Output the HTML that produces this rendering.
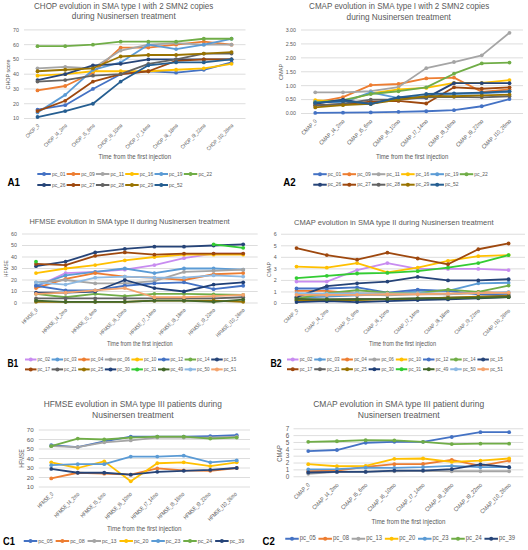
<!DOCTYPE html>
<html><head><meta charset="utf-8"><style>
html,body{margin:0;padding:0;background:#fff;}
body{width:528px;height:550px;overflow:hidden;}
svg{display:block;font-family:"Liberation Sans", sans-serif;}
</style></head><body>
<svg width="528" height="550" viewBox="0 0 528 550">
<rect width="528" height="550" fill="#fff"/>
<text x="123.70" y="9.10" font-size="8.6" fill="#595959" text-anchor="middle" textLength="179.20" lengthAdjust="spacingAndGlyphs">CHOP evolution in SMA type I with 2 SMN2 copies</text>
<text x="123.75" y="19.40" font-size="8.6" fill="#595959" text-anchor="middle" textLength="103.90" lengthAdjust="spacingAndGlyphs">during Nusinersen treatment</text>
<line x1="24" y1="118.50" x2="245.5" y2="118.50" stroke="#D9D9D9" stroke-width="0.9"/>
<text x="19.00" y="120.41" font-size="5.3" fill="#595959" text-anchor="end">10</text>
<line x1="24" y1="103.73" x2="245.5" y2="103.73" stroke="#D9D9D9" stroke-width="0.9"/>
<text x="19.00" y="105.64" font-size="5.3" fill="#595959" text-anchor="end">20</text>
<line x1="24" y1="88.97" x2="245.5" y2="88.97" stroke="#D9D9D9" stroke-width="0.9"/>
<text x="19.00" y="90.87" font-size="5.3" fill="#595959" text-anchor="end">30</text>
<line x1="24" y1="74.20" x2="245.5" y2="74.20" stroke="#D9D9D9" stroke-width="0.9"/>
<text x="19.00" y="76.11" font-size="5.3" fill="#595959" text-anchor="end">40</text>
<line x1="24" y1="59.43" x2="245.5" y2="59.43" stroke="#D9D9D9" stroke-width="0.9"/>
<text x="19.00" y="61.34" font-size="5.3" fill="#595959" text-anchor="end">50</text>
<line x1="24" y1="44.67" x2="245.5" y2="44.67" stroke="#D9D9D9" stroke-width="0.9"/>
<text x="19.00" y="46.57" font-size="5.3" fill="#595959" text-anchor="end">60</text>
<line x1="24" y1="29.90" x2="245.5" y2="29.90" stroke="#D9D9D9" stroke-width="0.9"/>
<text x="19.00" y="31.81" font-size="5.3" fill="#595959" text-anchor="end">70</text>
<text x="0.00" y="0.00" font-size="6.0" fill="#595959" text-anchor="middle" textLength="30.00" lengthAdjust="spacingAndGlyphs" transform="translate(10.40,74.40) rotate(-90)">CHOP score</text>
<text x="0.00" y="0.00" font-size="5.4" fill="#595959" text-anchor="end" textLength="17.03" lengthAdjust="spacingAndGlyphs" transform="translate(39.70,126.10) rotate(-45)">CHOP_0</text>
<text x="0.00" y="0.00" font-size="5.4" fill="#595959" text-anchor="end" textLength="30.21" lengthAdjust="spacingAndGlyphs" transform="translate(67.42,126.10) rotate(-45)">CHOP_I4_2mo</text>
<text x="0.00" y="0.00" font-size="5.4" fill="#595959" text-anchor="end" textLength="30.21" lengthAdjust="spacingAndGlyphs" transform="translate(95.14,126.10) rotate(-45)">CHOP_I5_6mo</text>
<text x="0.00" y="0.00" font-size="5.4" fill="#595959" text-anchor="end" textLength="32.79" lengthAdjust="spacingAndGlyphs" transform="translate(122.86,126.10) rotate(-45)">CHOP_I6_10mo</text>
<text x="0.00" y="0.00" font-size="5.4" fill="#595959" text-anchor="end" textLength="32.79" lengthAdjust="spacingAndGlyphs" transform="translate(150.58,126.10) rotate(-45)">CHOP_I7_14mo</text>
<text x="0.00" y="0.00" font-size="5.4" fill="#595959" text-anchor="end" textLength="32.79" lengthAdjust="spacingAndGlyphs" transform="translate(178.30,126.10) rotate(-45)">CHOP_I8_18mo</text>
<text x="0.00" y="0.00" font-size="5.4" fill="#595959" text-anchor="end" textLength="32.79" lengthAdjust="spacingAndGlyphs" transform="translate(206.02,126.10) rotate(-45)">CHOP_I9_22mo</text>
<text x="0.00" y="0.00" font-size="5.4" fill="#595959" text-anchor="end" textLength="35.38" lengthAdjust="spacingAndGlyphs" transform="translate(233.74,126.10) rotate(-45)">CHOP_I10_26mo</text>
<text x="134.75" y="159.20" font-size="6.6" fill="#595959" text-anchor="middle" textLength="72.50" lengthAdjust="spacingAndGlyphs">Time from the first injection</text>
<polyline points="37.50,109.64 65.22,105.21 92.94,88.97 120.66,74.20 148.38,71.25 176.10,72.72 203.82,69.77 231.54,62.39" fill="none" stroke="#4472C4" stroke-width="1.8" stroke-linejoin="round"/>
<circle cx="37.50" cy="109.64" r="1.9" fill="#4472C4"/>
<circle cx="65.22" cy="105.21" r="1.9" fill="#4472C4"/>
<circle cx="92.94" cy="88.97" r="1.9" fill="#4472C4"/>
<circle cx="120.66" cy="74.20" r="1.9" fill="#4472C4"/>
<circle cx="148.38" cy="71.25" r="1.9" fill="#4472C4"/>
<circle cx="176.10" cy="72.72" r="1.9" fill="#4472C4"/>
<circle cx="203.82" cy="69.77" r="1.9" fill="#4472C4"/>
<circle cx="231.54" cy="62.39" r="1.9" fill="#4472C4"/>
<polyline points="37.50,90.44 65.22,86.01 92.94,72.72 120.66,47.62 148.38,47.62 176.10,44.67 203.82,41.71 231.54,44.67" fill="none" stroke="#ED7D31" stroke-width="1.8" stroke-linejoin="round"/>
<circle cx="37.50" cy="90.44" r="1.9" fill="#ED7D31"/>
<circle cx="65.22" cy="86.01" r="1.9" fill="#ED7D31"/>
<circle cx="92.94" cy="72.72" r="1.9" fill="#ED7D31"/>
<circle cx="120.66" cy="47.62" r="1.9" fill="#ED7D31"/>
<circle cx="148.38" cy="47.62" r="1.9" fill="#ED7D31"/>
<circle cx="176.10" cy="44.67" r="1.9" fill="#ED7D31"/>
<circle cx="203.82" cy="41.71" r="1.9" fill="#ED7D31"/>
<circle cx="231.54" cy="44.67" r="1.9" fill="#ED7D31"/>
<polyline points="37.50,68.29 65.22,66.82 92.94,68.29 120.66,50.57 148.38,44.67 176.10,43.19 203.82,44.67 231.54,44.67" fill="none" stroke="#A5A5A5" stroke-width="1.8" stroke-linejoin="round"/>
<circle cx="37.50" cy="68.29" r="1.9" fill="#A5A5A5"/>
<circle cx="65.22" cy="66.82" r="1.9" fill="#A5A5A5"/>
<circle cx="92.94" cy="68.29" r="1.9" fill="#A5A5A5"/>
<circle cx="120.66" cy="50.57" r="1.9" fill="#A5A5A5"/>
<circle cx="148.38" cy="44.67" r="1.9" fill="#A5A5A5"/>
<circle cx="176.10" cy="43.19" r="1.9" fill="#A5A5A5"/>
<circle cx="203.82" cy="44.67" r="1.9" fill="#A5A5A5"/>
<circle cx="231.54" cy="44.67" r="1.9" fill="#A5A5A5"/>
<polyline points="37.50,75.68 65.22,74.20 92.94,71.25 120.66,71.25 148.38,71.25 176.10,69.77 203.82,68.29 231.54,63.86" fill="none" stroke="#FFC000" stroke-width="1.8" stroke-linejoin="round"/>
<circle cx="37.50" cy="75.68" r="1.9" fill="#FFC000"/>
<circle cx="65.22" cy="74.20" r="1.9" fill="#FFC000"/>
<circle cx="92.94" cy="71.25" r="1.9" fill="#FFC000"/>
<circle cx="120.66" cy="71.25" r="1.9" fill="#FFC000"/>
<circle cx="148.38" cy="71.25" r="1.9" fill="#FFC000"/>
<circle cx="176.10" cy="69.77" r="1.9" fill="#FFC000"/>
<circle cx="203.82" cy="68.29" r="1.9" fill="#FFC000"/>
<circle cx="231.54" cy="63.86" r="1.9" fill="#FFC000"/>
<polyline points="37.50,112.59 65.22,94.87 92.94,69.77 120.66,62.39 148.38,44.67 176.10,49.10 203.82,44.67 231.54,38.76" fill="none" stroke="#5B9BD5" stroke-width="1.8" stroke-linejoin="round"/>
<circle cx="37.50" cy="112.59" r="1.9" fill="#5B9BD5"/>
<circle cx="65.22" cy="94.87" r="1.9" fill="#5B9BD5"/>
<circle cx="92.94" cy="69.77" r="1.9" fill="#5B9BD5"/>
<circle cx="120.66" cy="62.39" r="1.9" fill="#5B9BD5"/>
<circle cx="148.38" cy="44.67" r="1.9" fill="#5B9BD5"/>
<circle cx="176.10" cy="49.10" r="1.9" fill="#5B9BD5"/>
<circle cx="203.82" cy="44.67" r="1.9" fill="#5B9BD5"/>
<circle cx="231.54" cy="38.76" r="1.9" fill="#5B9BD5"/>
<polyline points="37.50,46.14 65.22,46.14 92.94,44.67 120.66,41.71 148.38,41.71 176.10,41.71 203.82,38.76 231.54,38.76" fill="none" stroke="#70AD47" stroke-width="1.8" stroke-linejoin="round"/>
<circle cx="37.50" cy="46.14" r="1.9" fill="#70AD47"/>
<circle cx="65.22" cy="46.14" r="1.9" fill="#70AD47"/>
<circle cx="92.94" cy="44.67" r="1.9" fill="#70AD47"/>
<circle cx="120.66" cy="41.71" r="1.9" fill="#70AD47"/>
<circle cx="148.38" cy="41.71" r="1.9" fill="#70AD47"/>
<circle cx="176.10" cy="41.71" r="1.9" fill="#70AD47"/>
<circle cx="203.82" cy="38.76" r="1.9" fill="#70AD47"/>
<circle cx="231.54" cy="38.76" r="1.9" fill="#70AD47"/>
<polyline points="37.50,80.11 65.22,74.20 92.94,65.34 120.66,63.86 148.38,59.43 176.10,59.43 203.82,59.43 231.54,59.43" fill="none" stroke="#264478" stroke-width="1.8" stroke-linejoin="round"/>
<circle cx="37.50" cy="80.11" r="1.9" fill="#264478"/>
<circle cx="65.22" cy="74.20" r="1.9" fill="#264478"/>
<circle cx="92.94" cy="65.34" r="1.9" fill="#264478"/>
<circle cx="120.66" cy="63.86" r="1.9" fill="#264478"/>
<circle cx="148.38" cy="59.43" r="1.9" fill="#264478"/>
<circle cx="176.10" cy="59.43" r="1.9" fill="#264478"/>
<circle cx="203.82" cy="59.43" r="1.9" fill="#264478"/>
<circle cx="231.54" cy="59.43" r="1.9" fill="#264478"/>
<polyline points="37.50,111.12 65.22,100.78 92.94,81.58 120.66,74.20 148.38,71.25 176.10,60.91 203.82,59.43 231.54,59.43" fill="none" stroke="#9E480E" stroke-width="1.8" stroke-linejoin="round"/>
<circle cx="37.50" cy="111.12" r="1.9" fill="#9E480E"/>
<circle cx="65.22" cy="100.78" r="1.9" fill="#9E480E"/>
<circle cx="92.94" cy="81.58" r="1.9" fill="#9E480E"/>
<circle cx="120.66" cy="74.20" r="1.9" fill="#9E480E"/>
<circle cx="148.38" cy="71.25" r="1.9" fill="#9E480E"/>
<circle cx="176.10" cy="60.91" r="1.9" fill="#9E480E"/>
<circle cx="203.82" cy="59.43" r="1.9" fill="#9E480E"/>
<circle cx="231.54" cy="59.43" r="1.9" fill="#9E480E"/>
<polyline points="37.50,81.58 65.22,80.11 92.94,75.68 120.66,74.20 148.38,63.86 176.10,59.43 203.82,53.53 231.54,53.53" fill="none" stroke="#636363" stroke-width="1.8" stroke-linejoin="round"/>
<circle cx="37.50" cy="81.58" r="1.9" fill="#636363"/>
<circle cx="65.22" cy="80.11" r="1.9" fill="#636363"/>
<circle cx="92.94" cy="75.68" r="1.9" fill="#636363"/>
<circle cx="120.66" cy="74.20" r="1.9" fill="#636363"/>
<circle cx="148.38" cy="63.86" r="1.9" fill="#636363"/>
<circle cx="176.10" cy="59.43" r="1.9" fill="#636363"/>
<circle cx="203.82" cy="53.53" r="1.9" fill="#636363"/>
<circle cx="231.54" cy="53.53" r="1.9" fill="#636363"/>
<polyline points="37.50,71.25 65.22,69.77 92.94,68.29 120.66,56.48 148.38,55.00 176.10,55.00 203.82,53.53 231.54,52.05" fill="none" stroke="#997300" stroke-width="1.8" stroke-linejoin="round"/>
<circle cx="37.50" cy="71.25" r="1.9" fill="#997300"/>
<circle cx="65.22" cy="69.77" r="1.9" fill="#997300"/>
<circle cx="92.94" cy="68.29" r="1.9" fill="#997300"/>
<circle cx="120.66" cy="56.48" r="1.9" fill="#997300"/>
<circle cx="148.38" cy="55.00" r="1.9" fill="#997300"/>
<circle cx="176.10" cy="55.00" r="1.9" fill="#997300"/>
<circle cx="203.82" cy="53.53" r="1.9" fill="#997300"/>
<circle cx="231.54" cy="52.05" r="1.9" fill="#997300"/>
<polyline points="37.50,117.02 65.22,111.12 92.94,103.73 120.66,81.58 148.38,65.34 176.10,62.39 203.82,62.39 231.54,59.43" fill="none" stroke="#255E91" stroke-width="1.8" stroke-linejoin="round"/>
<circle cx="37.50" cy="117.02" r="1.9" fill="#255E91"/>
<circle cx="65.22" cy="111.12" r="1.9" fill="#255E91"/>
<circle cx="92.94" cy="103.73" r="1.9" fill="#255E91"/>
<circle cx="120.66" cy="81.58" r="1.9" fill="#255E91"/>
<circle cx="148.38" cy="65.34" r="1.9" fill="#255E91"/>
<circle cx="176.10" cy="62.39" r="1.9" fill="#255E91"/>
<circle cx="203.82" cy="62.39" r="1.9" fill="#255E91"/>
<circle cx="231.54" cy="59.43" r="1.9" fill="#255E91"/>
<line x1="37.30" y1="174.00" x2="50.80" y2="174.00" stroke="#4472C4" stroke-width="2.0"/>
<circle cx="44.05" cy="174.00" r="2.0" fill="#4472C4"/>
<text x="51.90" y="175.70" font-size="5.8" fill="#595959" text-anchor="start" textLength="13.50" lengthAdjust="spacingAndGlyphs">pc_01</text>
<line x1="66.60" y1="174.00" x2="80.10" y2="174.00" stroke="#ED7D31" stroke-width="2.0"/>
<circle cx="73.35" cy="174.00" r="2.0" fill="#ED7D31"/>
<text x="81.20" y="175.70" font-size="5.8" fill="#595959" text-anchor="start" textLength="13.50" lengthAdjust="spacingAndGlyphs">pc_09</text>
<line x1="95.90" y1="174.00" x2="109.40" y2="174.00" stroke="#A5A5A5" stroke-width="2.0"/>
<circle cx="102.65" cy="174.00" r="2.0" fill="#A5A5A5"/>
<text x="110.50" y="175.70" font-size="5.8" fill="#595959" text-anchor="start" textLength="13.50" lengthAdjust="spacingAndGlyphs">pc_11</text>
<line x1="125.20" y1="174.00" x2="138.70" y2="174.00" stroke="#FFC000" stroke-width="2.0"/>
<circle cx="131.95" cy="174.00" r="2.0" fill="#FFC000"/>
<text x="139.80" y="175.70" font-size="5.8" fill="#595959" text-anchor="start" textLength="13.50" lengthAdjust="spacingAndGlyphs">pc_16</text>
<line x1="154.50" y1="174.00" x2="168.00" y2="174.00" stroke="#5B9BD5" stroke-width="2.0"/>
<circle cx="161.25" cy="174.00" r="2.0" fill="#5B9BD5"/>
<text x="169.10" y="175.70" font-size="5.8" fill="#595959" text-anchor="start" textLength="13.50" lengthAdjust="spacingAndGlyphs">pc_19</text>
<line x1="183.80" y1="174.00" x2="197.30" y2="174.00" stroke="#70AD47" stroke-width="2.0"/>
<circle cx="190.55" cy="174.00" r="2.0" fill="#70AD47"/>
<text x="198.40" y="175.70" font-size="5.8" fill="#595959" text-anchor="start" textLength="13.50" lengthAdjust="spacingAndGlyphs">pc_22</text>
<line x1="37.30" y1="185.00" x2="50.80" y2="185.00" stroke="#264478" stroke-width="2.0"/>
<circle cx="44.05" cy="185.00" r="2.0" fill="#264478"/>
<text x="51.90" y="186.70" font-size="5.8" fill="#595959" text-anchor="start" textLength="13.50" lengthAdjust="spacingAndGlyphs">pc_26</text>
<line x1="66.60" y1="185.00" x2="80.10" y2="185.00" stroke="#9E480E" stroke-width="2.0"/>
<circle cx="73.35" cy="185.00" r="2.0" fill="#9E480E"/>
<text x="81.20" y="186.70" font-size="5.8" fill="#595959" text-anchor="start" textLength="13.50" lengthAdjust="spacingAndGlyphs">pc_27</text>
<line x1="95.90" y1="185.00" x2="109.40" y2="185.00" stroke="#636363" stroke-width="2.0"/>
<circle cx="102.65" cy="185.00" r="2.0" fill="#636363"/>
<text x="110.50" y="186.70" font-size="5.8" fill="#595959" text-anchor="start" textLength="13.50" lengthAdjust="spacingAndGlyphs">pc_28</text>
<line x1="125.20" y1="185.00" x2="138.70" y2="185.00" stroke="#997300" stroke-width="2.0"/>
<circle cx="131.95" cy="185.00" r="2.0" fill="#997300"/>
<text x="139.80" y="186.70" font-size="5.8" fill="#595959" text-anchor="start" textLength="13.50" lengthAdjust="spacingAndGlyphs">pc_29</text>
<line x1="154.50" y1="185.00" x2="168.00" y2="185.00" stroke="#255E91" stroke-width="2.0"/>
<circle cx="161.25" cy="185.00" r="2.0" fill="#255E91"/>
<text x="169.10" y="186.70" font-size="5.8" fill="#595959" text-anchor="start" textLength="13.50" lengthAdjust="spacingAndGlyphs">pc_52</text>
<text x="7.50" y="186.00" font-size="10.3" fill="#000" text-anchor="start" textLength="12.50" lengthAdjust="spacingAndGlyphs" font-weight="bold">A1</text>
<text x="399.20" y="9.10" font-size="8.6" fill="#595959" text-anchor="middle" textLength="180.20" lengthAdjust="spacingAndGlyphs">CMAP evolution in SMA type I with 2 SMN2 copies</text>
<text x="398.75" y="19.50" font-size="8.6" fill="#595959" text-anchor="middle" textLength="104.30" lengthAdjust="spacingAndGlyphs">during Nusinersen treatment</text>
<line x1="301" y1="113.50" x2="523" y2="113.50" stroke="#D9D9D9" stroke-width="0.9"/>
<text x="296.00" y="115.41" font-size="5.3" fill="#595959" text-anchor="end">0.00</text>
<line x1="301" y1="99.58" x2="523" y2="99.58" stroke="#D9D9D9" stroke-width="0.9"/>
<text x="296.00" y="101.49" font-size="5.3" fill="#595959" text-anchor="end">0.50</text>
<line x1="301" y1="85.67" x2="523" y2="85.67" stroke="#D9D9D9" stroke-width="0.9"/>
<text x="296.00" y="87.57" font-size="5.3" fill="#595959" text-anchor="end">1.00</text>
<line x1="301" y1="71.75" x2="523" y2="71.75" stroke="#D9D9D9" stroke-width="0.9"/>
<text x="296.00" y="73.66" font-size="5.3" fill="#595959" text-anchor="end">1.50</text>
<line x1="301" y1="57.83" x2="523" y2="57.83" stroke="#D9D9D9" stroke-width="0.9"/>
<text x="296.00" y="59.74" font-size="5.3" fill="#595959" text-anchor="end">2.00</text>
<line x1="301" y1="43.92" x2="523" y2="43.92" stroke="#D9D9D9" stroke-width="0.9"/>
<text x="296.00" y="45.82" font-size="5.3" fill="#595959" text-anchor="end">2.50</text>
<line x1="301" y1="30.00" x2="523" y2="30.00" stroke="#D9D9D9" stroke-width="0.9"/>
<text x="296.00" y="31.91" font-size="5.3" fill="#595959" text-anchor="end">3.00</text>
<text x="0.00" y="0.00" font-size="6.0" fill="#595959" text-anchor="middle" textLength="16.40" lengthAdjust="spacingAndGlyphs" transform="translate(282.50,71.80) rotate(-90)">CMAP</text>
<text x="0.00" y="0.00" font-size="5.8" fill="#595959" text-anchor="end" textLength="19.19" lengthAdjust="spacingAndGlyphs" transform="translate(317.25,121.70) rotate(-45)">CMAP_0</text>
<text x="0.00" y="0.00" font-size="5.8" fill="#595959" text-anchor="end" textLength="33.40" lengthAdjust="spacingAndGlyphs" transform="translate(345.00,121.70) rotate(-45)">CMAP_I4_2mo</text>
<text x="0.00" y="0.00" font-size="5.8" fill="#595959" text-anchor="end" textLength="33.40" lengthAdjust="spacingAndGlyphs" transform="translate(372.75,121.70) rotate(-45)">CMAP_I5_6mo</text>
<text x="0.00" y="0.00" font-size="5.8" fill="#595959" text-anchor="end" textLength="36.18" lengthAdjust="spacingAndGlyphs" transform="translate(400.50,121.70) rotate(-45)">CMAP_I6_10mo</text>
<text x="0.00" y="0.00" font-size="5.8" fill="#595959" text-anchor="end" textLength="36.18" lengthAdjust="spacingAndGlyphs" transform="translate(428.25,121.70) rotate(-45)">CMAP_I7_14mo</text>
<text x="0.00" y="0.00" font-size="5.8" fill="#595959" text-anchor="end" textLength="36.18" lengthAdjust="spacingAndGlyphs" transform="translate(456.00,121.70) rotate(-45)">CMAP_I8_18mo</text>
<text x="0.00" y="0.00" font-size="5.8" fill="#595959" text-anchor="end" textLength="36.18" lengthAdjust="spacingAndGlyphs" transform="translate(483.75,121.70) rotate(-45)">CMAP_I9_22mo</text>
<text x="0.00" y="0.00" font-size="5.8" fill="#595959" text-anchor="end" textLength="38.97" lengthAdjust="spacingAndGlyphs" transform="translate(511.50,121.70) rotate(-45)">CMAP_I10_26mo</text>
<text x="412.15" y="159.10" font-size="6.6" fill="#595959" text-anchor="middle" textLength="72.30" lengthAdjust="spacingAndGlyphs">Time from the first injection</text>
<polyline points="315.25,112.94 343.00,112.67 370.75,112.39 398.50,111.83 426.25,111.27 454.00,110.16 481.75,106.26 509.50,99.03" fill="none" stroke="#4472C4" stroke-width="1.8" stroke-linejoin="round"/>
<circle cx="315.25" cy="112.94" r="1.9" fill="#4472C4"/>
<circle cx="343.00" cy="112.67" r="1.9" fill="#4472C4"/>
<circle cx="370.75" cy="112.39" r="1.9" fill="#4472C4"/>
<circle cx="398.50" cy="111.83" r="1.9" fill="#4472C4"/>
<circle cx="426.25" cy="111.27" r="1.9" fill="#4472C4"/>
<circle cx="454.00" cy="110.16" r="1.9" fill="#4472C4"/>
<circle cx="481.75" cy="106.26" r="1.9" fill="#4472C4"/>
<circle cx="509.50" cy="99.03" r="1.9" fill="#4472C4"/>
<polyline points="315.25,102.37 343.00,97.08 370.75,85.11 398.50,84.00 426.25,78.43 454.00,77.59 481.75,91.79 509.50,89.28" fill="none" stroke="#ED7D31" stroke-width="1.8" stroke-linejoin="round"/>
<circle cx="315.25" cy="102.37" r="1.9" fill="#ED7D31"/>
<circle cx="343.00" cy="97.08" r="1.9" fill="#ED7D31"/>
<circle cx="370.75" cy="85.11" r="1.9" fill="#ED7D31"/>
<circle cx="398.50" cy="84.00" r="1.9" fill="#ED7D31"/>
<circle cx="426.25" cy="78.43" r="1.9" fill="#ED7D31"/>
<circle cx="454.00" cy="77.59" r="1.9" fill="#ED7D31"/>
<circle cx="481.75" cy="91.79" r="1.9" fill="#ED7D31"/>
<circle cx="509.50" cy="89.28" r="1.9" fill="#ED7D31"/>
<polyline points="315.25,92.35 343.00,92.35 370.75,91.23 398.50,87.06 426.25,68.13 454.00,62.01 481.75,55.33 509.50,32.78" fill="none" stroke="#A5A5A5" stroke-width="1.8" stroke-linejoin="round"/>
<circle cx="315.25" cy="92.35" r="1.9" fill="#A5A5A5"/>
<circle cx="343.00" cy="92.35" r="1.9" fill="#A5A5A5"/>
<circle cx="370.75" cy="91.23" r="1.9" fill="#A5A5A5"/>
<circle cx="398.50" cy="87.06" r="1.9" fill="#A5A5A5"/>
<circle cx="426.25" cy="68.13" r="1.9" fill="#A5A5A5"/>
<circle cx="454.00" cy="62.01" r="1.9" fill="#A5A5A5"/>
<circle cx="481.75" cy="55.33" r="1.9" fill="#A5A5A5"/>
<circle cx="509.50" cy="32.78" r="1.9" fill="#A5A5A5"/>
<polyline points="315.25,100.14 343.00,101.81 370.75,93.46 398.50,89.28 426.25,87.89 454.00,82.88 481.75,82.88 509.50,80.10" fill="none" stroke="#FFC000" stroke-width="1.8" stroke-linejoin="round"/>
<circle cx="315.25" cy="100.14" r="1.9" fill="#FFC000"/>
<circle cx="343.00" cy="101.81" r="1.9" fill="#FFC000"/>
<circle cx="370.75" cy="93.46" r="1.9" fill="#FFC000"/>
<circle cx="398.50" cy="89.28" r="1.9" fill="#FFC000"/>
<circle cx="426.25" cy="87.89" r="1.9" fill="#FFC000"/>
<circle cx="454.00" cy="82.88" r="1.9" fill="#FFC000"/>
<circle cx="481.75" cy="82.88" r="1.9" fill="#FFC000"/>
<circle cx="509.50" cy="80.10" r="1.9" fill="#FFC000"/>
<polyline points="315.25,101.81 343.00,102.37 370.75,92.35 398.50,98.19 426.25,96.24 454.00,94.02 481.75,93.46 509.50,91.79" fill="none" stroke="#5B9BD5" stroke-width="1.8" stroke-linejoin="round"/>
<circle cx="315.25" cy="101.81" r="1.9" fill="#5B9BD5"/>
<circle cx="343.00" cy="102.37" r="1.9" fill="#5B9BD5"/>
<circle cx="370.75" cy="92.35" r="1.9" fill="#5B9BD5"/>
<circle cx="398.50" cy="98.19" r="1.9" fill="#5B9BD5"/>
<circle cx="426.25" cy="96.24" r="1.9" fill="#5B9BD5"/>
<circle cx="454.00" cy="94.02" r="1.9" fill="#5B9BD5"/>
<circle cx="481.75" cy="93.46" r="1.9" fill="#5B9BD5"/>
<circle cx="509.50" cy="91.79" r="1.9" fill="#5B9BD5"/>
<polyline points="315.25,102.37 343.00,100.14 370.75,94.02 398.50,91.23 426.25,87.34 454.00,73.70 481.75,63.40 509.50,62.56" fill="none" stroke="#70AD47" stroke-width="1.8" stroke-linejoin="round"/>
<circle cx="315.25" cy="102.37" r="1.9" fill="#70AD47"/>
<circle cx="343.00" cy="100.14" r="1.9" fill="#70AD47"/>
<circle cx="370.75" cy="94.02" r="1.9" fill="#70AD47"/>
<circle cx="398.50" cy="91.23" r="1.9" fill="#70AD47"/>
<circle cx="426.25" cy="87.34" r="1.9" fill="#70AD47"/>
<circle cx="454.00" cy="73.70" r="1.9" fill="#70AD47"/>
<circle cx="481.75" cy="63.40" r="1.9" fill="#70AD47"/>
<circle cx="509.50" cy="62.56" r="1.9" fill="#70AD47"/>
<polyline points="315.25,103.76 343.00,99.58 370.75,104.04 398.50,97.36 426.25,97.91 454.00,83.16 481.75,83.16 509.50,83.16" fill="none" stroke="#264478" stroke-width="1.8" stroke-linejoin="round"/>
<circle cx="315.25" cy="103.76" r="1.9" fill="#264478"/>
<circle cx="343.00" cy="99.58" r="1.9" fill="#264478"/>
<circle cx="370.75" cy="104.04" r="1.9" fill="#264478"/>
<circle cx="398.50" cy="97.36" r="1.9" fill="#264478"/>
<circle cx="426.25" cy="97.91" r="1.9" fill="#264478"/>
<circle cx="454.00" cy="83.16" r="1.9" fill="#264478"/>
<circle cx="481.75" cy="83.16" r="1.9" fill="#264478"/>
<circle cx="509.50" cy="83.16" r="1.9" fill="#264478"/>
<polyline points="315.25,105.15 343.00,104.31 370.75,101.53 398.50,100.97 426.25,103.48 454.00,87.34 481.75,88.73 509.50,87.34" fill="none" stroke="#9E480E" stroke-width="1.8" stroke-linejoin="round"/>
<circle cx="315.25" cy="105.15" r="1.9" fill="#9E480E"/>
<circle cx="343.00" cy="104.31" r="1.9" fill="#9E480E"/>
<circle cx="370.75" cy="101.53" r="1.9" fill="#9E480E"/>
<circle cx="398.50" cy="100.97" r="1.9" fill="#9E480E"/>
<circle cx="426.25" cy="103.48" r="1.9" fill="#9E480E"/>
<circle cx="454.00" cy="87.34" r="1.9" fill="#9E480E"/>
<circle cx="481.75" cy="88.73" r="1.9" fill="#9E480E"/>
<circle cx="509.50" cy="87.34" r="1.9" fill="#9E480E"/>
<polyline points="315.25,105.71 343.00,103.76 370.75,99.58 398.50,99.58 426.25,97.36 454.00,96.80 481.75,97.36 509.50,96.24" fill="none" stroke="#636363" stroke-width="1.8" stroke-linejoin="round"/>
<circle cx="315.25" cy="105.71" r="1.9" fill="#636363"/>
<circle cx="343.00" cy="103.76" r="1.9" fill="#636363"/>
<circle cx="370.75" cy="99.58" r="1.9" fill="#636363"/>
<circle cx="398.50" cy="99.58" r="1.9" fill="#636363"/>
<circle cx="426.25" cy="97.36" r="1.9" fill="#636363"/>
<circle cx="454.00" cy="96.80" r="1.9" fill="#636363"/>
<circle cx="481.75" cy="97.36" r="1.9" fill="#636363"/>
<circle cx="509.50" cy="96.24" r="1.9" fill="#636363"/>
<polyline points="315.25,107.38 343.00,105.15 370.75,103.76 398.50,99.58 426.25,96.24 454.00,96.24 481.75,95.41 509.50,94.57" fill="none" stroke="#997300" stroke-width="1.8" stroke-linejoin="round"/>
<circle cx="315.25" cy="107.38" r="1.9" fill="#997300"/>
<circle cx="343.00" cy="105.15" r="1.9" fill="#997300"/>
<circle cx="370.75" cy="103.76" r="1.9" fill="#997300"/>
<circle cx="398.50" cy="99.58" r="1.9" fill="#997300"/>
<circle cx="426.25" cy="96.24" r="1.9" fill="#997300"/>
<circle cx="454.00" cy="96.24" r="1.9" fill="#997300"/>
<circle cx="481.75" cy="95.41" r="1.9" fill="#997300"/>
<circle cx="509.50" cy="94.57" r="1.9" fill="#997300"/>
<polyline points="315.25,102.92 343.00,100.97 370.75,103.76 398.50,97.36 426.25,94.02 454.00,93.46 481.75,92.62 509.50,91.23" fill="none" stroke="#255E91" stroke-width="1.8" stroke-linejoin="round"/>
<circle cx="315.25" cy="102.92" r="1.9" fill="#255E91"/>
<circle cx="343.00" cy="100.97" r="1.9" fill="#255E91"/>
<circle cx="370.75" cy="103.76" r="1.9" fill="#255E91"/>
<circle cx="398.50" cy="97.36" r="1.9" fill="#255E91"/>
<circle cx="426.25" cy="94.02" r="1.9" fill="#255E91"/>
<circle cx="454.00" cy="93.46" r="1.9" fill="#255E91"/>
<circle cx="481.75" cy="92.62" r="1.9" fill="#255E91"/>
<circle cx="509.50" cy="91.23" r="1.9" fill="#255E91"/>
<line x1="313.25" y1="174.20" x2="326.75" y2="174.20" stroke="#4472C4" stroke-width="2.0"/>
<circle cx="320.00" cy="174.20" r="2.0" fill="#4472C4"/>
<text x="327.85" y="175.90" font-size="5.8" fill="#595959" text-anchor="start" textLength="13.50" lengthAdjust="spacingAndGlyphs">pc_01</text>
<line x1="342.55" y1="174.20" x2="356.05" y2="174.20" stroke="#ED7D31" stroke-width="2.0"/>
<circle cx="349.30" cy="174.20" r="2.0" fill="#ED7D31"/>
<text x="357.15" y="175.90" font-size="5.8" fill="#595959" text-anchor="start" textLength="13.50" lengthAdjust="spacingAndGlyphs">pc_09</text>
<line x1="371.85" y1="174.20" x2="385.35" y2="174.20" stroke="#A5A5A5" stroke-width="2.0"/>
<circle cx="378.60" cy="174.20" r="2.0" fill="#A5A5A5"/>
<text x="386.45" y="175.90" font-size="5.8" fill="#595959" text-anchor="start" textLength="13.50" lengthAdjust="spacingAndGlyphs">pc_11</text>
<line x1="401.15" y1="174.20" x2="414.65" y2="174.20" stroke="#FFC000" stroke-width="2.0"/>
<circle cx="407.90" cy="174.20" r="2.0" fill="#FFC000"/>
<text x="415.75" y="175.90" font-size="5.8" fill="#595959" text-anchor="start" textLength="13.50" lengthAdjust="spacingAndGlyphs">pc_16</text>
<line x1="430.45" y1="174.20" x2="443.95" y2="174.20" stroke="#5B9BD5" stroke-width="2.0"/>
<circle cx="437.20" cy="174.20" r="2.0" fill="#5B9BD5"/>
<text x="445.05" y="175.90" font-size="5.8" fill="#595959" text-anchor="start" textLength="13.50" lengthAdjust="spacingAndGlyphs">pc_19</text>
<line x1="459.75" y1="174.20" x2="473.25" y2="174.20" stroke="#70AD47" stroke-width="2.0"/>
<circle cx="466.50" cy="174.20" r="2.0" fill="#70AD47"/>
<text x="474.35" y="175.90" font-size="5.8" fill="#595959" text-anchor="start" textLength="13.50" lengthAdjust="spacingAndGlyphs">pc_22</text>
<line x1="313.25" y1="184.70" x2="326.75" y2="184.70" stroke="#264478" stroke-width="2.0"/>
<circle cx="320.00" cy="184.70" r="2.0" fill="#264478"/>
<text x="327.85" y="186.40" font-size="5.8" fill="#595959" text-anchor="start" textLength="13.50" lengthAdjust="spacingAndGlyphs">pc_26</text>
<line x1="342.55" y1="184.70" x2="356.05" y2="184.70" stroke="#9E480E" stroke-width="2.0"/>
<circle cx="349.30" cy="184.70" r="2.0" fill="#9E480E"/>
<text x="357.15" y="186.40" font-size="5.8" fill="#595959" text-anchor="start" textLength="13.50" lengthAdjust="spacingAndGlyphs">pc_27</text>
<line x1="371.85" y1="184.70" x2="385.35" y2="184.70" stroke="#636363" stroke-width="2.0"/>
<circle cx="378.60" cy="184.70" r="2.0" fill="#636363"/>
<text x="386.45" y="186.40" font-size="5.8" fill="#595959" text-anchor="start" textLength="13.50" lengthAdjust="spacingAndGlyphs">pc_28</text>
<line x1="401.15" y1="184.70" x2="414.65" y2="184.70" stroke="#997300" stroke-width="2.0"/>
<circle cx="407.90" cy="184.70" r="2.0" fill="#997300"/>
<text x="415.75" y="186.40" font-size="5.8" fill="#595959" text-anchor="start" textLength="13.50" lengthAdjust="spacingAndGlyphs">pc_29</text>
<line x1="430.45" y1="184.70" x2="443.95" y2="184.70" stroke="#255E91" stroke-width="2.0"/>
<circle cx="437.20" cy="184.70" r="2.0" fill="#255E91"/>
<text x="445.05" y="186.40" font-size="5.8" fill="#595959" text-anchor="start" textLength="13.50" lengthAdjust="spacingAndGlyphs">pc_52</text>
<text x="283.20" y="186.00" font-size="10.3" fill="#000" text-anchor="start" textLength="12.40" lengthAdjust="spacingAndGlyphs" font-weight="bold">A2</text>
<text x="129.55" y="224.20" font-size="8.0" fill="#595959" text-anchor="middle" textLength="200.10" lengthAdjust="spacingAndGlyphs">HFMSE evolution in SMA type II during Nusinersen treatment</text>
<line x1="22" y1="303.00" x2="257.7" y2="303.00" stroke="#D9D9D9" stroke-width="0.9"/>
<text x="17.00" y="304.91" font-size="5.3" fill="#595959" text-anchor="end">0</text>
<line x1="22" y1="291.50" x2="257.7" y2="291.50" stroke="#D9D9D9" stroke-width="0.9"/>
<text x="17.00" y="293.41" font-size="5.3" fill="#595959" text-anchor="end">10</text>
<line x1="22" y1="280.00" x2="257.7" y2="280.00" stroke="#D9D9D9" stroke-width="0.9"/>
<text x="17.00" y="281.91" font-size="5.3" fill="#595959" text-anchor="end">20</text>
<line x1="22" y1="268.50" x2="257.7" y2="268.50" stroke="#D9D9D9" stroke-width="0.9"/>
<text x="17.00" y="270.41" font-size="5.3" fill="#595959" text-anchor="end">30</text>
<line x1="22" y1="257.00" x2="257.7" y2="257.00" stroke="#D9D9D9" stroke-width="0.9"/>
<text x="17.00" y="258.91" font-size="5.3" fill="#595959" text-anchor="end">40</text>
<line x1="22" y1="245.50" x2="257.7" y2="245.50" stroke="#D9D9D9" stroke-width="0.9"/>
<text x="17.00" y="247.41" font-size="5.3" fill="#595959" text-anchor="end">50</text>
<line x1="22" y1="234.00" x2="257.7" y2="234.00" stroke="#D9D9D9" stroke-width="0.9"/>
<text x="17.00" y="235.91" font-size="5.3" fill="#595959" text-anchor="end">60</text>
<text x="0.00" y="0.00" font-size="6.0" fill="#595959" text-anchor="middle" textLength="16.70" lengthAdjust="spacingAndGlyphs" transform="translate(8.20,268.60) rotate(-90)">HFMSE</text>
<text x="0.00" y="0.00" font-size="5.4" fill="#595959" text-anchor="end" textLength="19.83" lengthAdjust="spacingAndGlyphs" transform="translate(37.90,310.60) rotate(-45)">HFMSE_0</text>
<text x="0.00" y="0.00" font-size="5.4" fill="#595959" text-anchor="end" textLength="33.01" lengthAdjust="spacingAndGlyphs" transform="translate(67.50,310.60) rotate(-45)">HFMSE_I4_2mo</text>
<text x="0.00" y="0.00" font-size="5.4" fill="#595959" text-anchor="end" textLength="33.01" lengthAdjust="spacingAndGlyphs" transform="translate(97.10,310.60) rotate(-45)">HFMSE_I5_6mo</text>
<text x="0.00" y="0.00" font-size="5.4" fill="#595959" text-anchor="end" textLength="35.59" lengthAdjust="spacingAndGlyphs" transform="translate(126.70,310.60) rotate(-45)">HFMSE_I6_10mo</text>
<text x="0.00" y="0.00" font-size="5.4" fill="#595959" text-anchor="end" textLength="35.59" lengthAdjust="spacingAndGlyphs" transform="translate(156.30,310.60) rotate(-45)">HFMSE_I7_14mo</text>
<text x="0.00" y="0.00" font-size="5.4" fill="#595959" text-anchor="end" textLength="35.59" lengthAdjust="spacingAndGlyphs" transform="translate(185.90,310.60) rotate(-45)">HFMSE_I8_18mo</text>
<text x="0.00" y="0.00" font-size="5.4" fill="#595959" text-anchor="end" textLength="35.59" lengthAdjust="spacingAndGlyphs" transform="translate(215.50,310.60) rotate(-45)">HFMSE_I9_22mo</text>
<text x="0.00" y="0.00" font-size="5.4" fill="#595959" text-anchor="end" textLength="38.18" lengthAdjust="spacingAndGlyphs" transform="translate(245.10,310.60) rotate(-45)">HFMSE_I10_26mo</text>
<text x="139.75" y="346.00" font-size="6.6" fill="#595959" text-anchor="middle" textLength="65.50" lengthAdjust="spacingAndGlyphs">Time from the first injection</text>
<polyline points="36.00,286.90 65.60,273.10 95.20,271.95 124.80,269.65 154.40,265.05 184.00,258.15 213.60,253.55 243.20,253.55" fill="none" stroke="#C88CF0" stroke-width="1.8" stroke-linejoin="round"/>
<circle cx="36.00" cy="286.90" r="1.9" fill="#C88CF0"/>
<circle cx="65.60" cy="273.10" r="1.9" fill="#C88CF0"/>
<circle cx="95.20" cy="271.95" r="1.9" fill="#C88CF0"/>
<circle cx="124.80" cy="269.65" r="1.9" fill="#C88CF0"/>
<circle cx="154.40" cy="265.05" r="1.9" fill="#C88CF0"/>
<circle cx="184.00" cy="258.15" r="1.9" fill="#C88CF0"/>
<circle cx="213.60" cy="253.55" r="1.9" fill="#C88CF0"/>
<circle cx="243.20" cy="253.55" r="1.9" fill="#C88CF0"/>
<polyline points="36.00,285.75 65.60,275.40 95.20,271.95 124.80,268.50 154.40,273.10 184.00,268.50 213.60,268.50 243.20,269.65" fill="none" stroke="#5B9BD5" stroke-width="1.8" stroke-linejoin="round"/>
<circle cx="36.00" cy="285.75" r="1.9" fill="#5B9BD5"/>
<circle cx="65.60" cy="275.40" r="1.9" fill="#5B9BD5"/>
<circle cx="95.20" cy="271.95" r="1.9" fill="#5B9BD5"/>
<circle cx="124.80" cy="268.50" r="1.9" fill="#5B9BD5"/>
<circle cx="154.40" cy="273.10" r="1.9" fill="#5B9BD5"/>
<circle cx="184.00" cy="268.50" r="1.9" fill="#5B9BD5"/>
<circle cx="213.60" cy="268.50" r="1.9" fill="#5B9BD5"/>
<circle cx="243.20" cy="269.65" r="1.9" fill="#5B9BD5"/>
<polyline points="36.00,288.05 65.60,278.85 95.20,273.10 124.80,276.55 154.40,277.70 184.00,280.00 213.60,274.25 243.20,273.10" fill="none" stroke="#ED7D31" stroke-width="1.8" stroke-linejoin="round"/>
<circle cx="36.00" cy="288.05" r="1.9" fill="#ED7D31"/>
<circle cx="65.60" cy="278.85" r="1.9" fill="#ED7D31"/>
<circle cx="95.20" cy="273.10" r="1.9" fill="#ED7D31"/>
<circle cx="124.80" cy="276.55" r="1.9" fill="#ED7D31"/>
<circle cx="154.40" cy="277.70" r="1.9" fill="#ED7D31"/>
<circle cx="184.00" cy="280.00" r="1.9" fill="#ED7D31"/>
<circle cx="213.60" cy="274.25" r="1.9" fill="#ED7D31"/>
<circle cx="243.20" cy="273.10" r="1.9" fill="#ED7D31"/>
<polyline points="36.00,282.30 65.60,280.00 95.20,283.45 124.80,283.45 154.40,281.15 184.00,271.95 213.60,270.80 243.20,269.65" fill="none" stroke="#A5A5A5" stroke-width="1.8" stroke-linejoin="round"/>
<circle cx="36.00" cy="282.30" r="1.9" fill="#A5A5A5"/>
<circle cx="65.60" cy="280.00" r="1.9" fill="#A5A5A5"/>
<circle cx="95.20" cy="283.45" r="1.9" fill="#A5A5A5"/>
<circle cx="124.80" cy="283.45" r="1.9" fill="#A5A5A5"/>
<circle cx="154.40" cy="281.15" r="1.9" fill="#A5A5A5"/>
<circle cx="184.00" cy="271.95" r="1.9" fill="#A5A5A5"/>
<circle cx="213.60" cy="270.80" r="1.9" fill="#A5A5A5"/>
<circle cx="243.20" cy="269.65" r="1.9" fill="#A5A5A5"/>
<polyline points="36.00,273.10 65.60,268.50 95.20,265.05 124.80,260.45 154.40,257.00 184.00,254.70 213.60,254.70 243.20,254.70" fill="none" stroke="#FFC000" stroke-width="1.8" stroke-linejoin="round"/>
<circle cx="36.00" cy="273.10" r="1.9" fill="#FFC000"/>
<circle cx="65.60" cy="268.50" r="1.9" fill="#FFC000"/>
<circle cx="95.20" cy="265.05" r="1.9" fill="#FFC000"/>
<circle cx="124.80" cy="260.45" r="1.9" fill="#FFC000"/>
<circle cx="154.40" cy="257.00" r="1.9" fill="#FFC000"/>
<circle cx="184.00" cy="254.70" r="1.9" fill="#FFC000"/>
<circle cx="213.60" cy="254.70" r="1.9" fill="#FFC000"/>
<circle cx="243.20" cy="254.70" r="1.9" fill="#FFC000"/>
<polyline points="36.00,285.75 65.60,290.35 95.20,290.35 124.80,285.75 154.40,283.45 184.00,282.30 213.60,289.20 243.20,285.75" fill="none" stroke="#4472C4" stroke-width="1.8" stroke-linejoin="round"/>
<circle cx="36.00" cy="285.75" r="1.9" fill="#4472C4"/>
<circle cx="65.60" cy="290.35" r="1.9" fill="#4472C4"/>
<circle cx="95.20" cy="290.35" r="1.9" fill="#4472C4"/>
<circle cx="124.80" cy="285.75" r="1.9" fill="#4472C4"/>
<circle cx="154.40" cy="283.45" r="1.9" fill="#4472C4"/>
<circle cx="184.00" cy="282.30" r="1.9" fill="#4472C4"/>
<circle cx="213.60" cy="289.20" r="1.9" fill="#4472C4"/>
<circle cx="243.20" cy="285.75" r="1.9" fill="#4472C4"/>
<polyline points="36.00,293.80 65.60,297.25 95.20,293.80 124.80,296.10 154.40,293.80 184.00,293.80 213.60,294.38 243.20,294.95" fill="none" stroke="#70AD47" stroke-width="1.8" stroke-linejoin="round"/>
<circle cx="36.00" cy="293.80" r="1.9" fill="#70AD47"/>
<circle cx="65.60" cy="297.25" r="1.9" fill="#70AD47"/>
<circle cx="95.20" cy="293.80" r="1.9" fill="#70AD47"/>
<circle cx="124.80" cy="296.10" r="1.9" fill="#70AD47"/>
<circle cx="154.40" cy="293.80" r="1.9" fill="#70AD47"/>
<circle cx="184.00" cy="293.80" r="1.9" fill="#70AD47"/>
<circle cx="213.60" cy="294.38" r="1.9" fill="#70AD47"/>
<circle cx="243.20" cy="294.95" r="1.9" fill="#70AD47"/>
<polyline points="36.00,266.20 65.60,261.60 95.20,252.40 124.80,248.95 154.40,246.65 184.00,246.65 213.60,245.50 243.20,244.35" fill="none" stroke="#264478" stroke-width="1.8" stroke-linejoin="round"/>
<circle cx="36.00" cy="266.20" r="1.9" fill="#264478"/>
<circle cx="65.60" cy="261.60" r="1.9" fill="#264478"/>
<circle cx="95.20" cy="252.40" r="1.9" fill="#264478"/>
<circle cx="124.80" cy="248.95" r="1.9" fill="#264478"/>
<circle cx="154.40" cy="246.65" r="1.9" fill="#264478"/>
<circle cx="184.00" cy="246.65" r="1.9" fill="#264478"/>
<circle cx="213.60" cy="245.50" r="1.9" fill="#264478"/>
<circle cx="243.20" cy="244.35" r="1.9" fill="#264478"/>
<polyline points="36.00,263.90 65.60,265.05 95.20,255.85 124.80,252.40 154.40,254.70 184.00,253.55 213.60,253.55 243.20,253.55" fill="none" stroke="#9E480E" stroke-width="1.8" stroke-linejoin="round"/>
<circle cx="36.00" cy="263.90" r="1.9" fill="#9E480E"/>
<circle cx="65.60" cy="265.05" r="1.9" fill="#9E480E"/>
<circle cx="95.20" cy="255.85" r="1.9" fill="#9E480E"/>
<circle cx="124.80" cy="252.40" r="1.9" fill="#9E480E"/>
<circle cx="154.40" cy="254.70" r="1.9" fill="#9E480E"/>
<circle cx="184.00" cy="253.55" r="1.9" fill="#9E480E"/>
<circle cx="213.60" cy="253.55" r="1.9" fill="#9E480E"/>
<circle cx="243.20" cy="253.55" r="1.9" fill="#9E480E"/>
<polyline points="36.00,298.40 65.60,298.40 95.20,298.40 124.80,298.40 154.40,298.40 184.00,298.40 213.60,298.40 243.20,297.25" fill="none" stroke="#636363" stroke-width="1.8" stroke-linejoin="round"/>
<circle cx="36.00" cy="298.40" r="1.9" fill="#636363"/>
<circle cx="65.60" cy="298.40" r="1.9" fill="#636363"/>
<circle cx="95.20" cy="298.40" r="1.9" fill="#636363"/>
<circle cx="124.80" cy="298.40" r="1.9" fill="#636363"/>
<circle cx="154.40" cy="298.40" r="1.9" fill="#636363"/>
<circle cx="184.00" cy="298.40" r="1.9" fill="#636363"/>
<circle cx="213.60" cy="298.40" r="1.9" fill="#636363"/>
<circle cx="243.20" cy="297.25" r="1.9" fill="#636363"/>
<polyline points="36.00,301.85 65.60,301.85 95.20,301.85 124.80,301.85 154.40,300.70 184.00,300.70 213.60,300.70 243.20,301.85" fill="none" stroke="#997300" stroke-width="1.8" stroke-linejoin="round"/>
<circle cx="36.00" cy="301.85" r="1.9" fill="#997300"/>
<circle cx="65.60" cy="301.85" r="1.9" fill="#997300"/>
<circle cx="95.20" cy="301.85" r="1.9" fill="#997300"/>
<circle cx="124.80" cy="301.85" r="1.9" fill="#997300"/>
<circle cx="154.40" cy="300.70" r="1.9" fill="#997300"/>
<circle cx="184.00" cy="300.70" r="1.9" fill="#997300"/>
<circle cx="213.60" cy="300.70" r="1.9" fill="#997300"/>
<circle cx="243.20" cy="301.85" r="1.9" fill="#997300"/>
<polyline points="36.00,292.65 65.60,292.65 95.20,291.50 124.80,280.00 154.40,288.05 184.00,291.50 213.60,284.60 243.20,282.30" fill="none" stroke="#1F3F77" stroke-width="1.8" stroke-linejoin="round"/>
<circle cx="36.00" cy="292.65" r="1.9" fill="#1F3F77"/>
<circle cx="65.60" cy="292.65" r="1.9" fill="#1F3F77"/>
<circle cx="95.20" cy="291.50" r="1.9" fill="#1F3F77"/>
<circle cx="124.80" cy="280.00" r="1.9" fill="#1F3F77"/>
<circle cx="154.40" cy="288.05" r="1.9" fill="#1F3F77"/>
<circle cx="184.00" cy="291.50" r="1.9" fill="#1F3F77"/>
<circle cx="213.60" cy="284.60" r="1.9" fill="#1F3F77"/>
<circle cx="243.20" cy="282.30" r="1.9" fill="#1F3F77"/>
<polyline points="213.60,244.35 243.20,247.80" fill="none" stroke="#33CC33" stroke-width="1.8" stroke-linejoin="round"/>
<circle cx="36.00" cy="261.60" r="1.9" fill="#33CC33"/>
<circle cx="213.60" cy="244.35" r="1.9" fill="#33CC33"/>
<circle cx="243.20" cy="247.80" r="1.9" fill="#33CC33"/>
<polyline points="36.00,300.70 65.60,301.85 95.20,301.85 124.80,301.85 154.40,300.70 184.00,300.70 213.60,301.85 243.20,299.55" fill="none" stroke="#43682B" stroke-width="1.8" stroke-linejoin="round"/>
<circle cx="36.00" cy="300.70" r="1.9" fill="#43682B"/>
<circle cx="65.60" cy="301.85" r="1.9" fill="#43682B"/>
<circle cx="95.20" cy="301.85" r="1.9" fill="#43682B"/>
<circle cx="124.80" cy="301.85" r="1.9" fill="#43682B"/>
<circle cx="154.40" cy="300.70" r="1.9" fill="#43682B"/>
<circle cx="184.00" cy="300.70" r="1.9" fill="#43682B"/>
<circle cx="213.60" cy="301.85" r="1.9" fill="#43682B"/>
<circle cx="243.20" cy="299.55" r="1.9" fill="#43682B"/>
<polyline points="36.00,282.30 65.60,284.60 95.20,277.70 124.80,276.55 154.40,277.70 184.00,277.70 213.60,275.40 243.20,276.55" fill="none" stroke="#8DB9E3" stroke-width="1.8" stroke-linejoin="round"/>
<circle cx="36.00" cy="282.30" r="1.9" fill="#8DB9E3"/>
<circle cx="65.60" cy="284.60" r="1.9" fill="#8DB9E3"/>
<circle cx="95.20" cy="277.70" r="1.9" fill="#8DB9E3"/>
<circle cx="124.80" cy="276.55" r="1.9" fill="#8DB9E3"/>
<circle cx="154.40" cy="277.70" r="1.9" fill="#8DB9E3"/>
<circle cx="184.00" cy="277.70" r="1.9" fill="#8DB9E3"/>
<circle cx="213.60" cy="275.40" r="1.9" fill="#8DB9E3"/>
<circle cx="243.20" cy="276.55" r="1.9" fill="#8DB9E3"/>
<polyline points="36.00,293.80 65.60,292.65 95.20,290.35 124.80,288.05 154.40,297.25 184.00,297.25 213.60,296.10 243.20,294.95" fill="none" stroke="#F4A46E" stroke-width="1.8" stroke-linejoin="round"/>
<circle cx="36.00" cy="293.80" r="1.9" fill="#F4A46E"/>
<circle cx="65.60" cy="292.65" r="1.9" fill="#F4A46E"/>
<circle cx="95.20" cy="290.35" r="1.9" fill="#F4A46E"/>
<circle cx="124.80" cy="288.05" r="1.9" fill="#F4A46E"/>
<circle cx="154.40" cy="297.25" r="1.9" fill="#F4A46E"/>
<circle cx="184.00" cy="297.25" r="1.9" fill="#F4A46E"/>
<circle cx="213.60" cy="296.10" r="1.9" fill="#F4A46E"/>
<circle cx="243.20" cy="294.95" r="1.9" fill="#F4A46E"/>
<line x1="25.00" y1="359.50" x2="36.50" y2="359.50" stroke="#C88CF0" stroke-width="2.0"/>
<circle cx="30.75" cy="359.50" r="2.0" fill="#C88CF0"/>
<text x="37.50" y="361.20" font-size="5.8" fill="#595959" text-anchor="start" textLength="12.50" lengthAdjust="spacingAndGlyphs">pc_02</text>
<line x1="51.60" y1="359.50" x2="63.10" y2="359.50" stroke="#5B9BD5" stroke-width="2.0"/>
<circle cx="57.35" cy="359.50" r="2.0" fill="#5B9BD5"/>
<text x="64.10" y="361.20" font-size="5.8" fill="#595959" text-anchor="start" textLength="12.50" lengthAdjust="spacingAndGlyphs">pc_03</text>
<line x1="78.20" y1="359.50" x2="89.70" y2="359.50" stroke="#ED7D31" stroke-width="2.0"/>
<circle cx="83.95" cy="359.50" r="2.0" fill="#ED7D31"/>
<text x="90.70" y="361.20" font-size="5.8" fill="#595959" text-anchor="start" textLength="12.50" lengthAdjust="spacingAndGlyphs">pc_04</text>
<line x1="104.80" y1="359.50" x2="116.30" y2="359.50" stroke="#A5A5A5" stroke-width="2.0"/>
<circle cx="110.55" cy="359.50" r="2.0" fill="#A5A5A5"/>
<text x="117.30" y="361.20" font-size="5.8" fill="#595959" text-anchor="start" textLength="12.50" lengthAdjust="spacingAndGlyphs">pc_06</text>
<line x1="131.40" y1="359.50" x2="142.90" y2="359.50" stroke="#FFC000" stroke-width="2.0"/>
<circle cx="137.15" cy="359.50" r="2.0" fill="#FFC000"/>
<text x="143.90" y="361.20" font-size="5.8" fill="#595959" text-anchor="start" textLength="12.50" lengthAdjust="spacingAndGlyphs">pc_10</text>
<line x1="158.00" y1="359.50" x2="169.50" y2="359.50" stroke="#4472C4" stroke-width="2.0"/>
<circle cx="163.75" cy="359.50" r="2.0" fill="#4472C4"/>
<text x="170.50" y="361.20" font-size="5.8" fill="#595959" text-anchor="start" textLength="12.50" lengthAdjust="spacingAndGlyphs">pc_12</text>
<line x1="184.60" y1="359.50" x2="196.10" y2="359.50" stroke="#70AD47" stroke-width="2.0"/>
<circle cx="190.35" cy="359.50" r="2.0" fill="#70AD47"/>
<text x="197.10" y="361.20" font-size="5.8" fill="#595959" text-anchor="start" textLength="12.50" lengthAdjust="spacingAndGlyphs">pc_14</text>
<line x1="211.20" y1="359.50" x2="222.70" y2="359.50" stroke="#264478" stroke-width="2.0"/>
<circle cx="216.95" cy="359.50" r="2.0" fill="#264478"/>
<text x="223.70" y="361.20" font-size="5.8" fill="#595959" text-anchor="start" textLength="12.50" lengthAdjust="spacingAndGlyphs">pc_15</text>
<line x1="25.00" y1="369.40" x2="36.50" y2="369.40" stroke="#9E480E" stroke-width="2.0"/>
<circle cx="30.75" cy="369.40" r="2.0" fill="#9E480E"/>
<text x="37.50" y="371.10" font-size="5.8" fill="#595959" text-anchor="start" textLength="12.50" lengthAdjust="spacingAndGlyphs">pc_17</text>
<line x1="51.60" y1="369.40" x2="63.10" y2="369.40" stroke="#636363" stroke-width="2.0"/>
<circle cx="57.35" cy="369.40" r="2.0" fill="#636363"/>
<text x="64.10" y="371.10" font-size="5.8" fill="#595959" text-anchor="start" textLength="12.50" lengthAdjust="spacingAndGlyphs">pc_21</text>
<line x1="78.20" y1="369.40" x2="89.70" y2="369.40" stroke="#997300" stroke-width="2.0"/>
<circle cx="83.95" cy="369.40" r="2.0" fill="#997300"/>
<text x="90.70" y="371.10" font-size="5.8" fill="#595959" text-anchor="start" textLength="12.50" lengthAdjust="spacingAndGlyphs">pc_25</text>
<line x1="104.80" y1="369.40" x2="116.30" y2="369.40" stroke="#1F3F77" stroke-width="2.0"/>
<circle cx="110.55" cy="369.40" r="2.0" fill="#1F3F77"/>
<text x="117.30" y="371.10" font-size="5.8" fill="#595959" text-anchor="start" textLength="12.50" lengthAdjust="spacingAndGlyphs">pc_30</text>
<line x1="131.40" y1="369.40" x2="142.90" y2="369.40" stroke="#33CC33" stroke-width="2.0"/>
<circle cx="137.15" cy="369.40" r="2.0" fill="#33CC33"/>
<text x="143.90" y="371.10" font-size="5.8" fill="#595959" text-anchor="start" textLength="12.50" lengthAdjust="spacingAndGlyphs">pc_31</text>
<line x1="158.00" y1="369.40" x2="169.50" y2="369.40" stroke="#43682B" stroke-width="2.0"/>
<circle cx="163.75" cy="369.40" r="2.0" fill="#43682B"/>
<text x="170.50" y="371.10" font-size="5.8" fill="#595959" text-anchor="start" textLength="12.50" lengthAdjust="spacingAndGlyphs">pc_49</text>
<line x1="184.60" y1="369.40" x2="196.10" y2="369.40" stroke="#8DB9E3" stroke-width="2.0"/>
<circle cx="190.35" cy="369.40" r="2.0" fill="#8DB9E3"/>
<text x="197.10" y="371.10" font-size="5.8" fill="#595959" text-anchor="start" textLength="12.50" lengthAdjust="spacingAndGlyphs">pc_50</text>
<line x1="211.20" y1="369.40" x2="222.70" y2="369.40" stroke="#F4A46E" stroke-width="2.0"/>
<circle cx="216.95" cy="369.40" r="2.0" fill="#F4A46E"/>
<text x="223.70" y="371.10" font-size="5.8" fill="#595959" text-anchor="start" textLength="12.50" lengthAdjust="spacingAndGlyphs">pc_51</text>
<text x="7.50" y="366.70" font-size="10.3" fill="#000" text-anchor="start" textLength="10.80" lengthAdjust="spacingAndGlyphs" font-weight="bold">B1</text>
<text x="393.75" y="224.50" font-size="8.0" fill="#595959" text-anchor="middle" textLength="199.50" lengthAdjust="spacingAndGlyphs">CMAP evolution in SMA type II during Nusinersen treatment</text>
<line x1="281" y1="303.50" x2="525" y2="303.50" stroke="#D9D9D9" stroke-width="0.9"/>
<text x="276.80" y="305.41" font-size="5.3" fill="#595959" text-anchor="end">0</text>
<line x1="281" y1="291.96" x2="525" y2="291.96" stroke="#D9D9D9" stroke-width="0.9"/>
<text x="276.80" y="293.87" font-size="5.3" fill="#595959" text-anchor="end">1</text>
<line x1="281" y1="280.42" x2="525" y2="280.42" stroke="#D9D9D9" stroke-width="0.9"/>
<text x="276.80" y="282.32" font-size="5.3" fill="#595959" text-anchor="end">2</text>
<line x1="281" y1="268.88" x2="525" y2="268.88" stroke="#D9D9D9" stroke-width="0.9"/>
<text x="276.80" y="270.78" font-size="5.3" fill="#595959" text-anchor="end">3</text>
<line x1="281" y1="257.33" x2="525" y2="257.33" stroke="#D9D9D9" stroke-width="0.9"/>
<text x="276.80" y="259.24" font-size="5.3" fill="#595959" text-anchor="end">4</text>
<line x1="281" y1="245.79" x2="525" y2="245.79" stroke="#D9D9D9" stroke-width="0.9"/>
<text x="276.80" y="247.70" font-size="5.3" fill="#595959" text-anchor="end">5</text>
<line x1="281" y1="234.25" x2="525" y2="234.25" stroke="#D9D9D9" stroke-width="0.9"/>
<text x="276.80" y="236.16" font-size="5.3" fill="#595959" text-anchor="end">6</text>
<text x="0.00" y="0.00" font-size="6.0" fill="#595959" text-anchor="middle" textLength="15.00" lengthAdjust="spacingAndGlyphs" transform="translate(270.60,269.50) rotate(-90)">CMAP</text>
<text x="0.00" y="0.00" font-size="5.4" fill="#595959" text-anchor="end" textLength="17.79" lengthAdjust="spacingAndGlyphs" transform="translate(298.40,311.10) rotate(-45)">CMAP_0</text>
<text x="0.00" y="0.00" font-size="5.4" fill="#595959" text-anchor="end" textLength="30.97" lengthAdjust="spacingAndGlyphs" transform="translate(328.70,311.10) rotate(-45)">CMAP_I4_2mo</text>
<text x="0.00" y="0.00" font-size="5.4" fill="#595959" text-anchor="end" textLength="30.97" lengthAdjust="spacingAndGlyphs" transform="translate(359.00,311.10) rotate(-45)">CMAP_I5_6mo</text>
<text x="0.00" y="0.00" font-size="5.4" fill="#595959" text-anchor="end" textLength="33.55" lengthAdjust="spacingAndGlyphs" transform="translate(389.30,311.10) rotate(-45)">CMAP_I6_10mo</text>
<text x="0.00" y="0.00" font-size="5.4" fill="#595959" text-anchor="end" textLength="33.55" lengthAdjust="spacingAndGlyphs" transform="translate(419.60,311.10) rotate(-45)">CMAP_I7_14mo</text>
<text x="0.00" y="0.00" font-size="5.4" fill="#595959" text-anchor="end" textLength="33.55" lengthAdjust="spacingAndGlyphs" transform="translate(449.90,311.10) rotate(-45)">CMAP_I8_18mo</text>
<text x="0.00" y="0.00" font-size="5.4" fill="#595959" text-anchor="end" textLength="33.55" lengthAdjust="spacingAndGlyphs" transform="translate(480.20,311.10) rotate(-45)">CMAP_I9_22mo</text>
<text x="0.00" y="0.00" font-size="5.4" fill="#595959" text-anchor="end" textLength="36.14" lengthAdjust="spacingAndGlyphs" transform="translate(510.50,311.10) rotate(-45)">CMAP_I10_26mo</text>
<text x="402.50" y="346.00" font-size="6.6" fill="#595959" text-anchor="middle" textLength="67.00" lengthAdjust="spacingAndGlyphs">Time from the first injection</text>
<polyline points="296.50,281.57 326.80,281.57 357.10,270.03 387.40,263.10 417.70,268.88 448.00,268.88 478.30,268.88 508.60,270.03" fill="none" stroke="#C88CF0" stroke-width="1.8" stroke-linejoin="round"/>
<circle cx="296.50" cy="281.57" r="1.9" fill="#C88CF0"/>
<circle cx="326.80" cy="281.57" r="1.9" fill="#C88CF0"/>
<circle cx="357.10" cy="270.03" r="1.9" fill="#C88CF0"/>
<circle cx="387.40" cy="263.10" r="1.9" fill="#C88CF0"/>
<circle cx="417.70" cy="268.88" r="1.9" fill="#C88CF0"/>
<circle cx="448.00" cy="268.88" r="1.9" fill="#C88CF0"/>
<circle cx="478.30" cy="268.88" r="1.9" fill="#C88CF0"/>
<circle cx="508.60" cy="270.03" r="1.9" fill="#C88CF0"/>
<polyline points="296.50,297.73 326.80,296.57 357.10,295.42 387.40,294.27 417.70,290.80 448.00,290.80 478.30,283.30 508.60,282.73" fill="none" stroke="#5B9BD5" stroke-width="1.8" stroke-linejoin="round"/>
<circle cx="296.50" cy="297.73" r="1.9" fill="#5B9BD5"/>
<circle cx="326.80" cy="296.57" r="1.9" fill="#5B9BD5"/>
<circle cx="357.10" cy="295.42" r="1.9" fill="#5B9BD5"/>
<circle cx="387.40" cy="294.27" r="1.9" fill="#5B9BD5"/>
<circle cx="417.70" cy="290.80" r="1.9" fill="#5B9BD5"/>
<circle cx="448.00" cy="290.80" r="1.9" fill="#5B9BD5"/>
<circle cx="478.30" cy="283.30" r="1.9" fill="#5B9BD5"/>
<circle cx="508.60" cy="282.73" r="1.9" fill="#5B9BD5"/>
<polyline points="296.50,290.80 326.80,290.80 357.10,293.69 387.40,293.11 417.70,293.11 448.00,294.27 478.30,291.96 508.60,293.11" fill="none" stroke="#ED7D31" stroke-width="1.8" stroke-linejoin="round"/>
<circle cx="296.50" cy="290.80" r="1.9" fill="#ED7D31"/>
<circle cx="326.80" cy="290.80" r="1.9" fill="#ED7D31"/>
<circle cx="357.10" cy="293.69" r="1.9" fill="#ED7D31"/>
<circle cx="387.40" cy="293.11" r="1.9" fill="#ED7D31"/>
<circle cx="417.70" cy="293.11" r="1.9" fill="#ED7D31"/>
<circle cx="448.00" cy="294.27" r="1.9" fill="#ED7D31"/>
<circle cx="478.30" cy="291.96" r="1.9" fill="#ED7D31"/>
<circle cx="508.60" cy="293.11" r="1.9" fill="#ED7D31"/>
<polyline points="296.50,296.57 326.80,295.42 357.10,294.27 387.40,295.42 417.70,294.27 448.00,294.27 478.30,293.11 508.60,294.27" fill="none" stroke="#A5A5A5" stroke-width="1.8" stroke-linejoin="round"/>
<circle cx="296.50" cy="296.57" r="1.9" fill="#A5A5A5"/>
<circle cx="326.80" cy="295.42" r="1.9" fill="#A5A5A5"/>
<circle cx="357.10" cy="294.27" r="1.9" fill="#A5A5A5"/>
<circle cx="387.40" cy="295.42" r="1.9" fill="#A5A5A5"/>
<circle cx="417.70" cy="294.27" r="1.9" fill="#A5A5A5"/>
<circle cx="448.00" cy="294.27" r="1.9" fill="#A5A5A5"/>
<circle cx="478.30" cy="293.11" r="1.9" fill="#A5A5A5"/>
<circle cx="508.60" cy="294.27" r="1.9" fill="#A5A5A5"/>
<polyline points="296.50,266.57 326.80,267.72 357.10,263.10 387.40,272.34 417.70,267.72 448.00,260.80 478.30,256.18 508.60,255.03" fill="none" stroke="#FFC000" stroke-width="1.8" stroke-linejoin="round"/>
<circle cx="296.50" cy="266.57" r="1.9" fill="#FFC000"/>
<circle cx="326.80" cy="267.72" r="1.9" fill="#FFC000"/>
<circle cx="357.10" cy="263.10" r="1.9" fill="#FFC000"/>
<circle cx="387.40" cy="272.34" r="1.9" fill="#FFC000"/>
<circle cx="417.70" cy="267.72" r="1.9" fill="#FFC000"/>
<circle cx="448.00" cy="260.80" r="1.9" fill="#FFC000"/>
<circle cx="478.30" cy="256.18" r="1.9" fill="#FFC000"/>
<circle cx="508.60" cy="255.03" r="1.9" fill="#FFC000"/>
<polyline points="296.50,288.50 326.80,288.50 357.10,287.34 387.40,292.54 417.70,289.65 448.00,290.80 478.30,294.27 508.60,295.42" fill="none" stroke="#4472C4" stroke-width="1.8" stroke-linejoin="round"/>
<circle cx="296.50" cy="288.50" r="1.9" fill="#4472C4"/>
<circle cx="326.80" cy="288.50" r="1.9" fill="#4472C4"/>
<circle cx="357.10" cy="287.34" r="1.9" fill="#4472C4"/>
<circle cx="387.40" cy="292.54" r="1.9" fill="#4472C4"/>
<circle cx="417.70" cy="289.65" r="1.9" fill="#4472C4"/>
<circle cx="448.00" cy="290.80" r="1.9" fill="#4472C4"/>
<circle cx="478.30" cy="294.27" r="1.9" fill="#4472C4"/>
<circle cx="508.60" cy="295.42" r="1.9" fill="#4472C4"/>
<polyline points="296.50,298.88 326.80,293.11 357.10,290.23 387.40,292.54 417.70,293.11 448.00,289.65 478.30,291.96 508.60,285.61" fill="none" stroke="#70AD47" stroke-width="1.8" stroke-linejoin="round"/>
<circle cx="296.50" cy="298.88" r="1.9" fill="#70AD47"/>
<circle cx="326.80" cy="293.11" r="1.9" fill="#70AD47"/>
<circle cx="357.10" cy="290.23" r="1.9" fill="#70AD47"/>
<circle cx="387.40" cy="292.54" r="1.9" fill="#70AD47"/>
<circle cx="417.70" cy="293.11" r="1.9" fill="#70AD47"/>
<circle cx="448.00" cy="289.65" r="1.9" fill="#70AD47"/>
<circle cx="478.30" cy="291.96" r="1.9" fill="#70AD47"/>
<circle cx="508.60" cy="285.61" r="1.9" fill="#70AD47"/>
<polyline points="296.50,297.15 326.80,286.19 357.10,283.30 387.40,281.57 417.70,276.95 448.00,280.42 478.30,280.42 508.60,279.26" fill="none" stroke="#264478" stroke-width="1.8" stroke-linejoin="round"/>
<circle cx="296.50" cy="297.15" r="1.9" fill="#264478"/>
<circle cx="326.80" cy="286.19" r="1.9" fill="#264478"/>
<circle cx="357.10" cy="283.30" r="1.9" fill="#264478"/>
<circle cx="387.40" cy="281.57" r="1.9" fill="#264478"/>
<circle cx="417.70" cy="276.95" r="1.9" fill="#264478"/>
<circle cx="448.00" cy="280.42" r="1.9" fill="#264478"/>
<circle cx="478.30" cy="280.42" r="1.9" fill="#264478"/>
<circle cx="508.60" cy="279.26" r="1.9" fill="#264478"/>
<polyline points="296.50,248.10 326.80,255.03 357.10,259.64 387.40,252.72 417.70,258.49 448.00,264.26 478.30,249.25 508.60,243.48" fill="none" stroke="#9E480E" stroke-width="1.8" stroke-linejoin="round"/>
<circle cx="296.50" cy="248.10" r="1.9" fill="#9E480E"/>
<circle cx="326.80" cy="255.03" r="1.9" fill="#9E480E"/>
<circle cx="357.10" cy="259.64" r="1.9" fill="#9E480E"/>
<circle cx="387.40" cy="252.72" r="1.9" fill="#9E480E"/>
<circle cx="417.70" cy="258.49" r="1.9" fill="#9E480E"/>
<circle cx="448.00" cy="264.26" r="1.9" fill="#9E480E"/>
<circle cx="478.30" cy="249.25" r="1.9" fill="#9E480E"/>
<circle cx="508.60" cy="243.48" r="1.9" fill="#9E480E"/>
<polyline points="296.50,300.04 326.80,299.46 357.10,298.88 387.40,298.88 417.70,298.31 448.00,297.73 478.30,297.15 508.60,296.57" fill="none" stroke="#636363" stroke-width="1.8" stroke-linejoin="round"/>
<circle cx="296.50" cy="300.04" r="1.9" fill="#636363"/>
<circle cx="326.80" cy="299.46" r="1.9" fill="#636363"/>
<circle cx="357.10" cy="298.88" r="1.9" fill="#636363"/>
<circle cx="387.40" cy="298.88" r="1.9" fill="#636363"/>
<circle cx="417.70" cy="298.31" r="1.9" fill="#636363"/>
<circle cx="448.00" cy="297.73" r="1.9" fill="#636363"/>
<circle cx="478.30" cy="297.15" r="1.9" fill="#636363"/>
<circle cx="508.60" cy="296.57" r="1.9" fill="#636363"/>
<polyline points="296.50,300.61 326.80,300.04 357.10,300.04 387.40,299.46 417.70,298.88 448.00,297.73 478.30,296.57 508.60,296.00" fill="none" stroke="#997300" stroke-width="1.8" stroke-linejoin="round"/>
<circle cx="296.50" cy="300.61" r="1.9" fill="#997300"/>
<circle cx="326.80" cy="300.04" r="1.9" fill="#997300"/>
<circle cx="357.10" cy="300.04" r="1.9" fill="#997300"/>
<circle cx="387.40" cy="299.46" r="1.9" fill="#997300"/>
<circle cx="417.70" cy="298.88" r="1.9" fill="#997300"/>
<circle cx="448.00" cy="297.73" r="1.9" fill="#997300"/>
<circle cx="478.30" cy="296.57" r="1.9" fill="#997300"/>
<circle cx="508.60" cy="296.00" r="1.9" fill="#997300"/>
<polyline points="296.50,302.12 326.80,301.19 357.10,302.12 387.40,301.19 417.70,300.04 448.00,299.46 478.30,298.31 508.60,297.15" fill="none" stroke="#1F3F77" stroke-width="1.8" stroke-linejoin="round"/>
<circle cx="296.50" cy="302.12" r="1.9" fill="#1F3F77"/>
<circle cx="326.80" cy="301.19" r="1.9" fill="#1F3F77"/>
<circle cx="357.10" cy="302.12" r="1.9" fill="#1F3F77"/>
<circle cx="387.40" cy="301.19" r="1.9" fill="#1F3F77"/>
<circle cx="417.70" cy="300.04" r="1.9" fill="#1F3F77"/>
<circle cx="448.00" cy="299.46" r="1.9" fill="#1F3F77"/>
<circle cx="478.30" cy="298.31" r="1.9" fill="#1F3F77"/>
<circle cx="508.60" cy="297.15" r="1.9" fill="#1F3F77"/>
<polyline points="296.50,278.11 326.80,275.80 357.10,273.49 387.40,272.91 417.70,271.18 448.00,267.72 478.30,263.10 508.60,255.03" fill="none" stroke="#33CC33" stroke-width="1.8" stroke-linejoin="round"/>
<circle cx="296.50" cy="278.11" r="1.9" fill="#33CC33"/>
<circle cx="326.80" cy="275.80" r="1.9" fill="#33CC33"/>
<circle cx="357.10" cy="273.49" r="1.9" fill="#33CC33"/>
<circle cx="387.40" cy="272.91" r="1.9" fill="#33CC33"/>
<circle cx="417.70" cy="271.18" r="1.9" fill="#33CC33"/>
<circle cx="448.00" cy="267.72" r="1.9" fill="#33CC33"/>
<circle cx="478.30" cy="263.10" r="1.9" fill="#33CC33"/>
<circle cx="508.60" cy="255.03" r="1.9" fill="#33CC33"/>
<polyline points="296.50,298.88 326.80,299.46 357.10,299.46 387.40,298.88 417.70,298.31 448.00,298.31 478.30,297.73 508.60,297.15" fill="none" stroke="#43682B" stroke-width="1.8" stroke-linejoin="round"/>
<circle cx="296.50" cy="298.88" r="1.9" fill="#43682B"/>
<circle cx="326.80" cy="299.46" r="1.9" fill="#43682B"/>
<circle cx="357.10" cy="299.46" r="1.9" fill="#43682B"/>
<circle cx="387.40" cy="298.88" r="1.9" fill="#43682B"/>
<circle cx="417.70" cy="298.31" r="1.9" fill="#43682B"/>
<circle cx="448.00" cy="298.31" r="1.9" fill="#43682B"/>
<circle cx="478.30" cy="297.73" r="1.9" fill="#43682B"/>
<circle cx="508.60" cy="297.15" r="1.9" fill="#43682B"/>
<polyline points="296.50,293.11 326.80,293.69 357.10,293.11 387.40,293.69 417.70,293.11 448.00,293.69 478.30,293.11 508.60,291.96" fill="none" stroke="#8DB9E3" stroke-width="1.8" stroke-linejoin="round"/>
<circle cx="296.50" cy="293.11" r="1.9" fill="#8DB9E3"/>
<circle cx="326.80" cy="293.69" r="1.9" fill="#8DB9E3"/>
<circle cx="357.10" cy="293.11" r="1.9" fill="#8DB9E3"/>
<circle cx="387.40" cy="293.69" r="1.9" fill="#8DB9E3"/>
<circle cx="417.70" cy="293.11" r="1.9" fill="#8DB9E3"/>
<circle cx="448.00" cy="293.69" r="1.9" fill="#8DB9E3"/>
<circle cx="478.30" cy="293.11" r="1.9" fill="#8DB9E3"/>
<circle cx="508.60" cy="291.96" r="1.9" fill="#8DB9E3"/>
<polyline points="296.50,294.84 326.80,294.84 357.10,294.84 387.40,294.27 417.70,294.27 448.00,293.69 478.30,293.11 508.60,292.54" fill="none" stroke="#F4A46E" stroke-width="1.8" stroke-linejoin="round"/>
<circle cx="296.50" cy="294.84" r="1.9" fill="#F4A46E"/>
<circle cx="326.80" cy="294.84" r="1.9" fill="#F4A46E"/>
<circle cx="357.10" cy="294.84" r="1.9" fill="#F4A46E"/>
<circle cx="387.40" cy="294.27" r="1.9" fill="#F4A46E"/>
<circle cx="417.70" cy="294.27" r="1.9" fill="#F4A46E"/>
<circle cx="448.00" cy="293.69" r="1.9" fill="#F4A46E"/>
<circle cx="478.30" cy="293.11" r="1.9" fill="#F4A46E"/>
<circle cx="508.60" cy="292.54" r="1.9" fill="#F4A46E"/>
<line x1="287.00" y1="359.50" x2="298.50" y2="359.50" stroke="#C88CF0" stroke-width="2.0"/>
<circle cx="292.75" cy="359.50" r="2.0" fill="#C88CF0"/>
<text x="299.80" y="361.20" font-size="5.8" fill="#595959" text-anchor="start" textLength="12.50" lengthAdjust="spacingAndGlyphs">pc_02</text>
<line x1="314.20" y1="359.50" x2="325.70" y2="359.50" stroke="#5B9BD5" stroke-width="2.0"/>
<circle cx="319.95" cy="359.50" r="2.0" fill="#5B9BD5"/>
<text x="327.00" y="361.20" font-size="5.8" fill="#595959" text-anchor="start" textLength="12.50" lengthAdjust="spacingAndGlyphs">pc_03</text>
<line x1="341.40" y1="359.50" x2="352.90" y2="359.50" stroke="#ED7D31" stroke-width="2.0"/>
<circle cx="347.15" cy="359.50" r="2.0" fill="#ED7D31"/>
<text x="354.20" y="361.20" font-size="5.8" fill="#595959" text-anchor="start" textLength="12.50" lengthAdjust="spacingAndGlyphs">pc_04</text>
<line x1="368.60" y1="359.50" x2="380.10" y2="359.50" stroke="#A5A5A5" stroke-width="2.0"/>
<circle cx="374.35" cy="359.50" r="2.0" fill="#A5A5A5"/>
<text x="381.40" y="361.20" font-size="5.8" fill="#595959" text-anchor="start" textLength="12.50" lengthAdjust="spacingAndGlyphs">pc_06</text>
<line x1="395.80" y1="359.50" x2="407.30" y2="359.50" stroke="#FFC000" stroke-width="2.0"/>
<circle cx="401.55" cy="359.50" r="2.0" fill="#FFC000"/>
<text x="408.60" y="361.20" font-size="5.8" fill="#595959" text-anchor="start" textLength="12.50" lengthAdjust="spacingAndGlyphs">pc_10</text>
<line x1="423.00" y1="359.50" x2="434.50" y2="359.50" stroke="#4472C4" stroke-width="2.0"/>
<circle cx="428.75" cy="359.50" r="2.0" fill="#4472C4"/>
<text x="435.80" y="361.20" font-size="5.8" fill="#595959" text-anchor="start" textLength="12.50" lengthAdjust="spacingAndGlyphs">pc_12</text>
<line x1="450.20" y1="359.50" x2="461.70" y2="359.50" stroke="#70AD47" stroke-width="2.0"/>
<circle cx="455.95" cy="359.50" r="2.0" fill="#70AD47"/>
<text x="463.00" y="361.20" font-size="5.8" fill="#595959" text-anchor="start" textLength="12.50" lengthAdjust="spacingAndGlyphs">pc_14</text>
<line x1="477.40" y1="359.50" x2="488.90" y2="359.50" stroke="#264478" stroke-width="2.0"/>
<circle cx="483.15" cy="359.50" r="2.0" fill="#264478"/>
<text x="490.20" y="361.20" font-size="5.8" fill="#595959" text-anchor="start" textLength="12.50" lengthAdjust="spacingAndGlyphs">pc_15</text>
<line x1="287.00" y1="369.25" x2="298.50" y2="369.25" stroke="#9E480E" stroke-width="2.0"/>
<circle cx="292.75" cy="369.25" r="2.0" fill="#9E480E"/>
<text x="299.80" y="370.95" font-size="5.8" fill="#595959" text-anchor="start" textLength="12.50" lengthAdjust="spacingAndGlyphs">pc_17</text>
<line x1="314.20" y1="369.25" x2="325.70" y2="369.25" stroke="#636363" stroke-width="2.0"/>
<circle cx="319.95" cy="369.25" r="2.0" fill="#636363"/>
<text x="327.00" y="370.95" font-size="5.8" fill="#595959" text-anchor="start" textLength="12.50" lengthAdjust="spacingAndGlyphs">pc_21</text>
<line x1="341.40" y1="369.25" x2="352.90" y2="369.25" stroke="#997300" stroke-width="2.0"/>
<circle cx="347.15" cy="369.25" r="2.0" fill="#997300"/>
<text x="354.20" y="370.95" font-size="5.8" fill="#595959" text-anchor="start" textLength="12.50" lengthAdjust="spacingAndGlyphs">pc_25</text>
<line x1="368.60" y1="369.25" x2="380.10" y2="369.25" stroke="#1F3F77" stroke-width="2.0"/>
<circle cx="374.35" cy="369.25" r="2.0" fill="#1F3F77"/>
<text x="381.40" y="370.95" font-size="5.8" fill="#595959" text-anchor="start" textLength="12.50" lengthAdjust="spacingAndGlyphs">pc_30</text>
<line x1="395.80" y1="369.25" x2="407.30" y2="369.25" stroke="#33CC33" stroke-width="2.0"/>
<circle cx="401.55" cy="369.25" r="2.0" fill="#33CC33"/>
<text x="408.60" y="370.95" font-size="5.8" fill="#595959" text-anchor="start" textLength="12.50" lengthAdjust="spacingAndGlyphs">pc_31</text>
<line x1="423.00" y1="369.25" x2="434.50" y2="369.25" stroke="#43682B" stroke-width="2.0"/>
<circle cx="428.75" cy="369.25" r="2.0" fill="#43682B"/>
<text x="435.80" y="370.95" font-size="5.8" fill="#595959" text-anchor="start" textLength="12.50" lengthAdjust="spacingAndGlyphs">pc_49</text>
<line x1="450.20" y1="369.25" x2="461.70" y2="369.25" stroke="#8DB9E3" stroke-width="2.0"/>
<circle cx="455.95" cy="369.25" r="2.0" fill="#8DB9E3"/>
<text x="463.00" y="370.95" font-size="5.8" fill="#595959" text-anchor="start" textLength="12.50" lengthAdjust="spacingAndGlyphs">pc_50</text>
<line x1="477.40" y1="369.25" x2="488.90" y2="369.25" stroke="#F4A46E" stroke-width="2.0"/>
<circle cx="483.15" cy="369.25" r="2.0" fill="#F4A46E"/>
<text x="490.20" y="370.95" font-size="5.8" fill="#595959" text-anchor="start" textLength="12.50" lengthAdjust="spacingAndGlyphs">pc_51</text>
<text x="270.40" y="367.10" font-size="10.3" fill="#000" text-anchor="start" textLength="11.10" lengthAdjust="spacingAndGlyphs" font-weight="bold">B2</text>
<text x="132.78" y="406.50" font-size="8.9" fill="#595959" text-anchor="middle" textLength="178.05" lengthAdjust="spacingAndGlyphs">HFMSE evolution in SMA type III patients during</text>
<text x="132.85" y="417.70" font-size="8.9" fill="#595959" text-anchor="middle" textLength="81.70" lengthAdjust="spacingAndGlyphs">Nusinersen treatment</text>
<line x1="38.75" y1="487.00" x2="250" y2="487.00" stroke="#D9D9D9" stroke-width="0.9"/>
<text x="33.60" y="489.23" font-size="6.2" fill="#595959" text-anchor="end">10</text>
<line x1="38.75" y1="477.50" x2="250" y2="477.50" stroke="#D9D9D9" stroke-width="0.9"/>
<text x="33.60" y="479.73" font-size="6.2" fill="#595959" text-anchor="end">20</text>
<line x1="38.75" y1="468.00" x2="250" y2="468.00" stroke="#D9D9D9" stroke-width="0.9"/>
<text x="33.60" y="470.23" font-size="6.2" fill="#595959" text-anchor="end">30</text>
<line x1="38.75" y1="458.50" x2="250" y2="458.50" stroke="#D9D9D9" stroke-width="0.9"/>
<text x="33.60" y="460.73" font-size="6.2" fill="#595959" text-anchor="end">40</text>
<line x1="38.75" y1="449.00" x2="250" y2="449.00" stroke="#D9D9D9" stroke-width="0.9"/>
<text x="33.60" y="451.23" font-size="6.2" fill="#595959" text-anchor="end">50</text>
<line x1="38.75" y1="439.50" x2="250" y2="439.50" stroke="#D9D9D9" stroke-width="0.9"/>
<text x="33.60" y="441.73" font-size="6.2" fill="#595959" text-anchor="end">60</text>
<line x1="38.75" y1="430.00" x2="250" y2="430.00" stroke="#D9D9D9" stroke-width="0.9"/>
<text x="33.60" y="432.23" font-size="6.2" fill="#595959" text-anchor="end">70</text>
<text x="0.00" y="0.00" font-size="6.6" fill="#595959" text-anchor="middle" textLength="18.40" lengthAdjust="spacingAndGlyphs" transform="translate(23.90,458.50) rotate(-90)">HFMSE</text>
<text x="0.00" y="0.00" font-size="5.8" fill="#595959" text-anchor="end" textLength="19.83" lengthAdjust="spacingAndGlyphs" transform="translate(53.65,494.60) rotate(-45)">HFMSE_0</text>
<text x="0.00" y="0.00" font-size="5.8" fill="#595959" text-anchor="end" textLength="33.01" lengthAdjust="spacingAndGlyphs" transform="translate(79.87,494.60) rotate(-45)">HFMSE_I4_2mo</text>
<text x="0.00" y="0.00" font-size="5.8" fill="#595959" text-anchor="end" textLength="33.01" lengthAdjust="spacingAndGlyphs" transform="translate(106.09,494.60) rotate(-45)">HFMSE_I5_6mo</text>
<text x="0.00" y="0.00" font-size="5.8" fill="#595959" text-anchor="end" textLength="35.59" lengthAdjust="spacingAndGlyphs" transform="translate(132.31,494.60) rotate(-45)">HFMSE_I6_10mo</text>
<text x="0.00" y="0.00" font-size="5.8" fill="#595959" text-anchor="end" textLength="35.59" lengthAdjust="spacingAndGlyphs" transform="translate(158.53,494.60) rotate(-45)">HFMSE_I7_14mo</text>
<text x="0.00" y="0.00" font-size="5.8" fill="#595959" text-anchor="end" textLength="35.59" lengthAdjust="spacingAndGlyphs" transform="translate(184.75,494.60) rotate(-45)">HFMSE_I8_18mo</text>
<text x="0.00" y="0.00" font-size="5.8" fill="#595959" text-anchor="end" textLength="35.59" lengthAdjust="spacingAndGlyphs" transform="translate(210.97,494.60) rotate(-45)">HFMSE_I9_22mo</text>
<text x="0.00" y="0.00" font-size="5.8" fill="#595959" text-anchor="end" textLength="38.18" lengthAdjust="spacingAndGlyphs" transform="translate(237.19,494.60) rotate(-45)">HFMSE_I10_26mo</text>
<text x="144.25" y="531.00" font-size="7.0" fill="#595959" text-anchor="middle" textLength="74.50" lengthAdjust="spacingAndGlyphs">Time from the first injection</text>
<polyline points="51.25,445.20 77.75,447.10 104.25,441.40 130.75,436.65 157.25,436.65 183.75,436.65 210.25,436.18 236.75,435.23" fill="none" stroke="#4472C4" stroke-width="1.8" stroke-linejoin="round"/>
<circle cx="51.25" cy="445.20" r="1.9" fill="#4472C4"/>
<circle cx="77.75" cy="447.10" r="1.9" fill="#4472C4"/>
<circle cx="104.25" cy="441.40" r="1.9" fill="#4472C4"/>
<circle cx="130.75" cy="436.65" r="1.9" fill="#4472C4"/>
<circle cx="157.25" cy="436.65" r="1.9" fill="#4472C4"/>
<circle cx="183.75" cy="436.65" r="1.9" fill="#4472C4"/>
<circle cx="210.25" cy="436.18" r="1.9" fill="#4472C4"/>
<circle cx="236.75" cy="435.23" r="1.9" fill="#4472C4"/>
<polyline points="51.25,478.45 77.75,472.75 104.25,473.70 130.75,474.65 157.25,468.38 183.75,470.28 210.25,470.85 236.75,468.00" fill="none" stroke="#ED7D31" stroke-width="1.8" stroke-linejoin="round"/>
<circle cx="51.25" cy="478.45" r="1.9" fill="#ED7D31"/>
<circle cx="77.75" cy="472.75" r="1.9" fill="#ED7D31"/>
<circle cx="104.25" cy="473.70" r="1.9" fill="#ED7D31"/>
<circle cx="130.75" cy="474.65" r="1.9" fill="#ED7D31"/>
<circle cx="157.25" cy="468.38" r="1.9" fill="#ED7D31"/>
<circle cx="183.75" cy="470.28" r="1.9" fill="#ED7D31"/>
<circle cx="210.25" cy="470.85" r="1.9" fill="#ED7D31"/>
<circle cx="236.75" cy="468.00" r="1.9" fill="#ED7D31"/>
<polyline points="51.25,446.15 77.75,447.10 104.25,442.35 130.75,440.45 157.25,437.60 183.75,437.60 210.25,437.60 236.75,436.65" fill="none" stroke="#A5A5A5" stroke-width="1.8" stroke-linejoin="round"/>
<circle cx="51.25" cy="446.15" r="1.9" fill="#A5A5A5"/>
<circle cx="77.75" cy="447.10" r="1.9" fill="#A5A5A5"/>
<circle cx="104.25" cy="442.35" r="1.9" fill="#A5A5A5"/>
<circle cx="130.75" cy="440.45" r="1.9" fill="#A5A5A5"/>
<circle cx="157.25" cy="437.60" r="1.9" fill="#A5A5A5"/>
<circle cx="183.75" cy="437.60" r="1.9" fill="#A5A5A5"/>
<circle cx="210.25" cy="437.60" r="1.9" fill="#A5A5A5"/>
<circle cx="236.75" cy="436.65" r="1.9" fill="#A5A5A5"/>
<polyline points="51.25,462.30 77.75,468.00 104.25,461.35 130.75,481.30 157.25,463.25 183.75,462.30 210.25,466.10 236.75,462.30" fill="none" stroke="#FFC000" stroke-width="1.8" stroke-linejoin="round"/>
<circle cx="51.25" cy="462.30" r="1.9" fill="#FFC000"/>
<circle cx="77.75" cy="468.00" r="1.9" fill="#FFC000"/>
<circle cx="104.25" cy="461.35" r="1.9" fill="#FFC000"/>
<circle cx="130.75" cy="481.30" r="1.9" fill="#FFC000"/>
<circle cx="157.25" cy="463.25" r="1.9" fill="#FFC000"/>
<circle cx="183.75" cy="462.30" r="1.9" fill="#FFC000"/>
<circle cx="210.25" cy="466.10" r="1.9" fill="#FFC000"/>
<circle cx="236.75" cy="462.30" r="1.9" fill="#FFC000"/>
<polyline points="51.25,465.15 77.75,464.20 104.25,464.20 130.75,456.60 157.25,456.60 183.75,455.65 210.25,462.30 236.75,460.40" fill="none" stroke="#5B9BD5" stroke-width="1.8" stroke-linejoin="round"/>
<circle cx="51.25" cy="465.15" r="1.9" fill="#5B9BD5"/>
<circle cx="77.75" cy="464.20" r="1.9" fill="#5B9BD5"/>
<circle cx="104.25" cy="464.20" r="1.9" fill="#5B9BD5"/>
<circle cx="130.75" cy="456.60" r="1.9" fill="#5B9BD5"/>
<circle cx="157.25" cy="456.60" r="1.9" fill="#5B9BD5"/>
<circle cx="183.75" cy="455.65" r="1.9" fill="#5B9BD5"/>
<circle cx="210.25" cy="462.30" r="1.9" fill="#5B9BD5"/>
<circle cx="236.75" cy="460.40" r="1.9" fill="#5B9BD5"/>
<polyline points="51.25,446.15 77.75,438.55 104.25,439.50 130.75,437.60 157.25,436.65 183.75,436.65 210.25,438.55 236.75,437.60" fill="none" stroke="#70AD47" stroke-width="1.8" stroke-linejoin="round"/>
<circle cx="51.25" cy="446.15" r="1.9" fill="#70AD47"/>
<circle cx="77.75" cy="438.55" r="1.9" fill="#70AD47"/>
<circle cx="104.25" cy="439.50" r="1.9" fill="#70AD47"/>
<circle cx="130.75" cy="437.60" r="1.9" fill="#70AD47"/>
<circle cx="157.25" cy="436.65" r="1.9" fill="#70AD47"/>
<circle cx="183.75" cy="436.65" r="1.9" fill="#70AD47"/>
<circle cx="210.25" cy="438.55" r="1.9" fill="#70AD47"/>
<circle cx="236.75" cy="437.60" r="1.9" fill="#70AD47"/>
<polyline points="51.25,468.95 77.75,472.75 104.25,472.75 130.75,474.65 157.25,471.80 183.75,470.85 210.25,469.90 236.75,468.00" fill="none" stroke="#264478" stroke-width="1.8" stroke-linejoin="round"/>
<circle cx="51.25" cy="468.95" r="1.9" fill="#264478"/>
<circle cx="77.75" cy="472.75" r="1.9" fill="#264478"/>
<circle cx="104.25" cy="472.75" r="1.9" fill="#264478"/>
<circle cx="130.75" cy="474.65" r="1.9" fill="#264478"/>
<circle cx="157.25" cy="471.80" r="1.9" fill="#264478"/>
<circle cx="183.75" cy="470.85" r="1.9" fill="#264478"/>
<circle cx="210.25" cy="469.90" r="1.9" fill="#264478"/>
<circle cx="236.75" cy="468.00" r="1.9" fill="#264478"/>
<line x1="23.75" y1="541.00" x2="37.25" y2="541.00" stroke="#4472C4" stroke-width="2.0"/>
<circle cx="30.50" cy="541.00" r="2.0" fill="#4472C4"/>
<text x="38.25" y="542.70" font-size="6.2" fill="#595959" text-anchor="start" textLength="14.50" lengthAdjust="spacingAndGlyphs">pc_05</text>
<line x1="55.65" y1="541.00" x2="69.15" y2="541.00" stroke="#ED7D31" stroke-width="2.0"/>
<circle cx="62.40" cy="541.00" r="2.0" fill="#ED7D31"/>
<text x="70.15" y="542.70" font-size="6.2" fill="#595959" text-anchor="start" textLength="14.50" lengthAdjust="spacingAndGlyphs">pc_08</text>
<line x1="87.55" y1="541.00" x2="101.05" y2="541.00" stroke="#A5A5A5" stroke-width="2.0"/>
<circle cx="94.30" cy="541.00" r="2.0" fill="#A5A5A5"/>
<text x="102.05" y="542.70" font-size="6.2" fill="#595959" text-anchor="start" textLength="14.50" lengthAdjust="spacingAndGlyphs">pc_13</text>
<line x1="119.45" y1="541.00" x2="132.95" y2="541.00" stroke="#FFC000" stroke-width="2.0"/>
<circle cx="126.20" cy="541.00" r="2.0" fill="#FFC000"/>
<text x="133.95" y="542.70" font-size="6.2" fill="#595959" text-anchor="start" textLength="14.50" lengthAdjust="spacingAndGlyphs">pc_20</text>
<line x1="151.35" y1="541.00" x2="164.85" y2="541.00" stroke="#5B9BD5" stroke-width="2.0"/>
<circle cx="158.10" cy="541.00" r="2.0" fill="#5B9BD5"/>
<text x="165.85" y="542.70" font-size="6.2" fill="#595959" text-anchor="start" textLength="14.50" lengthAdjust="spacingAndGlyphs">pc_23</text>
<line x1="183.25" y1="541.00" x2="196.75" y2="541.00" stroke="#70AD47" stroke-width="2.0"/>
<circle cx="190.00" cy="541.00" r="2.0" fill="#70AD47"/>
<text x="197.75" y="542.70" font-size="6.2" fill="#595959" text-anchor="start" textLength="14.50" lengthAdjust="spacingAndGlyphs">pc_24</text>
<line x1="215.15" y1="541.00" x2="228.65" y2="541.00" stroke="#264478" stroke-width="2.0"/>
<circle cx="221.90" cy="541.00" r="2.0" fill="#264478"/>
<text x="229.65" y="542.70" font-size="6.2" fill="#595959" text-anchor="start" textLength="14.50" lengthAdjust="spacingAndGlyphs">pc_39</text>
<text x="3.00" y="545.00" font-size="10.4" fill="#000" text-anchor="start" textLength="11.80" lengthAdjust="spacingAndGlyphs" font-weight="bold">C1</text>
<text x="398.68" y="406.50" font-size="8.9" fill="#595959" text-anchor="middle" textLength="170.85" lengthAdjust="spacingAndGlyphs">CMAP evolution in SMA type III patient during</text>
<text x="398.73" y="417.50" font-size="8.9" fill="#595959" text-anchor="middle" textLength="81.95" lengthAdjust="spacingAndGlyphs">Nusinersen treatment</text>
<line x1="293.5" y1="476.75" x2="523.3" y2="476.75" stroke="#D9D9D9" stroke-width="0.9"/>
<text x="289.30" y="479.02" font-size="6.3" fill="#595959" text-anchor="end">0</text>
<line x1="293.5" y1="469.89" x2="523.3" y2="469.89" stroke="#D9D9D9" stroke-width="0.9"/>
<text x="289.30" y="472.16" font-size="6.3" fill="#595959" text-anchor="end">1</text>
<line x1="293.5" y1="463.04" x2="523.3" y2="463.04" stroke="#D9D9D9" stroke-width="0.9"/>
<text x="289.30" y="465.30" font-size="6.3" fill="#595959" text-anchor="end">2</text>
<line x1="293.5" y1="456.18" x2="523.3" y2="456.18" stroke="#D9D9D9" stroke-width="0.9"/>
<text x="289.30" y="458.45" font-size="6.3" fill="#595959" text-anchor="end">3</text>
<line x1="293.5" y1="449.32" x2="523.3" y2="449.32" stroke="#D9D9D9" stroke-width="0.9"/>
<text x="289.30" y="451.59" font-size="6.3" fill="#595959" text-anchor="end">4</text>
<line x1="293.5" y1="442.46" x2="523.3" y2="442.46" stroke="#D9D9D9" stroke-width="0.9"/>
<text x="289.30" y="444.73" font-size="6.3" fill="#595959" text-anchor="end">5</text>
<line x1="293.5" y1="435.61" x2="523.3" y2="435.61" stroke="#D9D9D9" stroke-width="0.9"/>
<text x="289.30" y="437.88" font-size="6.3" fill="#595959" text-anchor="end">6</text>
<line x1="293.5" y1="428.75" x2="523.3" y2="428.75" stroke="#D9D9D9" stroke-width="0.9"/>
<text x="289.30" y="431.02" font-size="6.3" fill="#595959" text-anchor="end">7</text>
<text x="0.00" y="0.00" font-size="6.4" fill="#595959" text-anchor="middle" textLength="16.60" lengthAdjust="spacingAndGlyphs" transform="translate(282.10,453.40) rotate(-90)">CMAP</text>
<text x="0.00" y="0.00" font-size="5.9" fill="#595959" text-anchor="end" textLength="19.89" lengthAdjust="spacingAndGlyphs" transform="translate(310.25,485.55) rotate(-45)">CMAP_0</text>
<text x="0.00" y="0.00" font-size="5.9" fill="#595959" text-anchor="end" textLength="34.61" lengthAdjust="spacingAndGlyphs" transform="translate(338.95,485.55) rotate(-45)">CMAP_I4_2mo</text>
<text x="0.00" y="0.00" font-size="5.9" fill="#595959" text-anchor="end" textLength="34.61" lengthAdjust="spacingAndGlyphs" transform="translate(367.65,485.55) rotate(-45)">CMAP_I5_6mo</text>
<text x="0.00" y="0.00" font-size="5.9" fill="#595959" text-anchor="end" textLength="37.50" lengthAdjust="spacingAndGlyphs" transform="translate(396.35,485.55) rotate(-45)">CMAP_I6_10mo</text>
<text x="0.00" y="0.00" font-size="5.9" fill="#595959" text-anchor="end" textLength="37.50" lengthAdjust="spacingAndGlyphs" transform="translate(425.05,485.55) rotate(-45)">CMAP_I7_14mo</text>
<text x="0.00" y="0.00" font-size="5.9" fill="#595959" text-anchor="end" textLength="37.50" lengthAdjust="spacingAndGlyphs" transform="translate(453.75,485.55) rotate(-45)">CMAP_I8_18mo</text>
<text x="0.00" y="0.00" font-size="5.9" fill="#595959" text-anchor="end" textLength="37.50" lengthAdjust="spacingAndGlyphs" transform="translate(482.45,485.55) rotate(-45)">CMAP_I9_22mo</text>
<text x="0.00" y="0.00" font-size="5.9" fill="#595959" text-anchor="end" textLength="40.39" lengthAdjust="spacingAndGlyphs" transform="translate(511.15,485.55) rotate(-45)">CMAP_I10_26mo</text>
<text x="408.50" y="523.60" font-size="7.0" fill="#595959" text-anchor="middle" textLength="74.00" lengthAdjust="spacingAndGlyphs">Time from the first injection</text>
<polyline points="308.25,451.04 336.95,450.01 365.65,442.74 394.35,441.78 423.05,441.78 451.75,436.98 480.45,432.18 509.15,432.18" fill="none" stroke="#4472C4" stroke-width="1.8" stroke-linejoin="round"/>
<circle cx="308.25" cy="451.04" r="1.9" fill="#4472C4"/>
<circle cx="336.95" cy="450.01" r="1.9" fill="#4472C4"/>
<circle cx="365.65" cy="442.74" r="1.9" fill="#4472C4"/>
<circle cx="394.35" cy="441.78" r="1.9" fill="#4472C4"/>
<circle cx="423.05" cy="441.78" r="1.9" fill="#4472C4"/>
<circle cx="451.75" cy="436.98" r="1.9" fill="#4472C4"/>
<circle cx="480.45" cy="432.18" r="1.9" fill="#4472C4"/>
<circle cx="509.15" cy="432.18" r="1.9" fill="#4472C4"/>
<polyline points="308.25,471.26 336.95,470.58 365.65,466.81 394.35,464.20 423.05,464.00 451.75,459.81 480.45,465.78 509.15,460.64" fill="none" stroke="#ED7D31" stroke-width="1.8" stroke-linejoin="round"/>
<circle cx="308.25" cy="471.26" r="1.9" fill="#ED7D31"/>
<circle cx="336.95" cy="470.58" r="1.9" fill="#ED7D31"/>
<circle cx="365.65" cy="466.81" r="1.9" fill="#ED7D31"/>
<circle cx="394.35" cy="464.20" r="1.9" fill="#ED7D31"/>
<circle cx="423.05" cy="464.00" r="1.9" fill="#ED7D31"/>
<circle cx="451.75" cy="459.81" r="1.9" fill="#ED7D31"/>
<circle cx="480.45" cy="465.78" r="1.9" fill="#ED7D31"/>
<circle cx="509.15" cy="460.64" r="1.9" fill="#ED7D31"/>
<polyline points="308.25,473.73 336.95,471.95 365.65,471.61 394.35,471.26 423.05,470.92 451.75,471.26 480.45,471.26 509.15,471.26" fill="none" stroke="#A5A5A5" stroke-width="1.8" stroke-linejoin="round"/>
<circle cx="308.25" cy="473.73" r="1.9" fill="#A5A5A5"/>
<circle cx="336.95" cy="471.95" r="1.9" fill="#A5A5A5"/>
<circle cx="365.65" cy="471.61" r="1.9" fill="#A5A5A5"/>
<circle cx="394.35" cy="471.26" r="1.9" fill="#A5A5A5"/>
<circle cx="423.05" cy="470.92" r="1.9" fill="#A5A5A5"/>
<circle cx="451.75" cy="471.26" r="1.9" fill="#A5A5A5"/>
<circle cx="480.45" cy="471.26" r="1.9" fill="#A5A5A5"/>
<circle cx="509.15" cy="471.26" r="1.9" fill="#A5A5A5"/>
<polyline points="308.25,464.20 336.95,466.26 365.65,465.78 394.35,458.78 423.05,458.51 451.75,461.87 480.45,460.64 509.15,458.51" fill="none" stroke="#FFC000" stroke-width="1.8" stroke-linejoin="round"/>
<circle cx="308.25" cy="464.20" r="1.9" fill="#FFC000"/>
<circle cx="336.95" cy="466.26" r="1.9" fill="#FFC000"/>
<circle cx="365.65" cy="465.78" r="1.9" fill="#FFC000"/>
<circle cx="394.35" cy="458.78" r="1.9" fill="#FFC000"/>
<circle cx="423.05" cy="458.51" r="1.9" fill="#FFC000"/>
<circle cx="451.75" cy="461.87" r="1.9" fill="#FFC000"/>
<circle cx="480.45" cy="460.64" r="1.9" fill="#FFC000"/>
<circle cx="509.15" cy="458.51" r="1.9" fill="#FFC000"/>
<polyline points="308.25,469.41 336.95,469.21 365.65,467.70 394.35,467.84 423.05,467.15 451.75,465.78 480.45,467.15 509.15,467.15" fill="none" stroke="#5B9BD5" stroke-width="1.8" stroke-linejoin="round"/>
<circle cx="308.25" cy="469.41" r="1.9" fill="#5B9BD5"/>
<circle cx="336.95" cy="469.21" r="1.9" fill="#5B9BD5"/>
<circle cx="365.65" cy="467.70" r="1.9" fill="#5B9BD5"/>
<circle cx="394.35" cy="467.84" r="1.9" fill="#5B9BD5"/>
<circle cx="423.05" cy="467.15" r="1.9" fill="#5B9BD5"/>
<circle cx="451.75" cy="465.78" r="1.9" fill="#5B9BD5"/>
<circle cx="480.45" cy="467.15" r="1.9" fill="#5B9BD5"/>
<circle cx="509.15" cy="467.15" r="1.9" fill="#5B9BD5"/>
<polyline points="308.25,441.78 336.95,441.23 365.65,440.20 394.35,440.41 423.05,441.78 451.75,444.11 480.45,443.63 509.15,443.63" fill="none" stroke="#70AD47" stroke-width="1.8" stroke-linejoin="round"/>
<circle cx="308.25" cy="441.78" r="1.9" fill="#70AD47"/>
<circle cx="336.95" cy="441.23" r="1.9" fill="#70AD47"/>
<circle cx="365.65" cy="440.20" r="1.9" fill="#70AD47"/>
<circle cx="394.35" cy="440.41" r="1.9" fill="#70AD47"/>
<circle cx="423.05" cy="441.78" r="1.9" fill="#70AD47"/>
<circle cx="451.75" cy="444.11" r="1.9" fill="#70AD47"/>
<circle cx="480.45" cy="443.63" r="1.9" fill="#70AD47"/>
<circle cx="509.15" cy="443.63" r="1.9" fill="#70AD47"/>
<polyline points="308.25,472.50 336.95,471.95 365.65,471.95 394.35,470.58 423.05,470.58 451.75,469.21 480.45,464.41 509.15,467.15" fill="none" stroke="#264478" stroke-width="1.8" stroke-linejoin="round"/>
<circle cx="308.25" cy="472.50" r="1.9" fill="#264478"/>
<circle cx="336.95" cy="471.95" r="1.9" fill="#264478"/>
<circle cx="365.65" cy="471.95" r="1.9" fill="#264478"/>
<circle cx="394.35" cy="470.58" r="1.9" fill="#264478"/>
<circle cx="423.05" cy="470.58" r="1.9" fill="#264478"/>
<circle cx="451.75" cy="469.21" r="1.9" fill="#264478"/>
<circle cx="480.45" cy="464.41" r="1.9" fill="#264478"/>
<circle cx="509.15" cy="467.15" r="1.9" fill="#264478"/>
<line x1="285.25" y1="538.75" x2="298.75" y2="538.75" stroke="#4472C4" stroke-width="2.0"/>
<circle cx="292.00" cy="538.75" r="2.0" fill="#4472C4"/>
<text x="299.75" y="540.45" font-size="6.3" fill="#595959" text-anchor="start" textLength="16.00" lengthAdjust="spacingAndGlyphs">pc_05</text>
<line x1="318.45" y1="538.75" x2="331.95" y2="538.75" stroke="#ED7D31" stroke-width="2.0"/>
<circle cx="325.20" cy="538.75" r="2.0" fill="#ED7D31"/>
<text x="332.95" y="540.45" font-size="6.3" fill="#595959" text-anchor="start" textLength="16.00" lengthAdjust="spacingAndGlyphs">pc_08</text>
<line x1="351.65" y1="538.75" x2="365.15" y2="538.75" stroke="#A5A5A5" stroke-width="2.0"/>
<circle cx="358.40" cy="538.75" r="2.0" fill="#A5A5A5"/>
<text x="366.15" y="540.45" font-size="6.3" fill="#595959" text-anchor="start" textLength="16.00" lengthAdjust="spacingAndGlyphs">pc_13</text>
<line x1="384.85" y1="538.75" x2="398.35" y2="538.75" stroke="#FFC000" stroke-width="2.0"/>
<circle cx="391.60" cy="538.75" r="2.0" fill="#FFC000"/>
<text x="399.35" y="540.45" font-size="6.3" fill="#595959" text-anchor="start" textLength="16.00" lengthAdjust="spacingAndGlyphs">pc_20</text>
<line x1="418.05" y1="538.75" x2="431.55" y2="538.75" stroke="#5B9BD5" stroke-width="2.0"/>
<circle cx="424.80" cy="538.75" r="2.0" fill="#5B9BD5"/>
<text x="432.55" y="540.45" font-size="6.3" fill="#595959" text-anchor="start" textLength="16.00" lengthAdjust="spacingAndGlyphs">pc_23</text>
<line x1="451.25" y1="538.75" x2="464.75" y2="538.75" stroke="#70AD47" stroke-width="2.0"/>
<circle cx="458.00" cy="538.75" r="2.0" fill="#70AD47"/>
<text x="465.75" y="540.45" font-size="6.3" fill="#595959" text-anchor="start" textLength="16.00" lengthAdjust="spacingAndGlyphs">pc_24</text>
<line x1="484.45" y1="538.75" x2="497.95" y2="538.75" stroke="#264478" stroke-width="2.0"/>
<circle cx="491.20" cy="538.75" r="2.0" fill="#264478"/>
<text x="498.95" y="540.45" font-size="6.3" fill="#595959" text-anchor="start" textLength="16.00" lengthAdjust="spacingAndGlyphs">pc_39</text>
<text x="262.60" y="545.00" font-size="10.4" fill="#000" text-anchor="start" textLength="12.20" lengthAdjust="spacingAndGlyphs" font-weight="bold">C2</text>
</svg>
</body></html>
